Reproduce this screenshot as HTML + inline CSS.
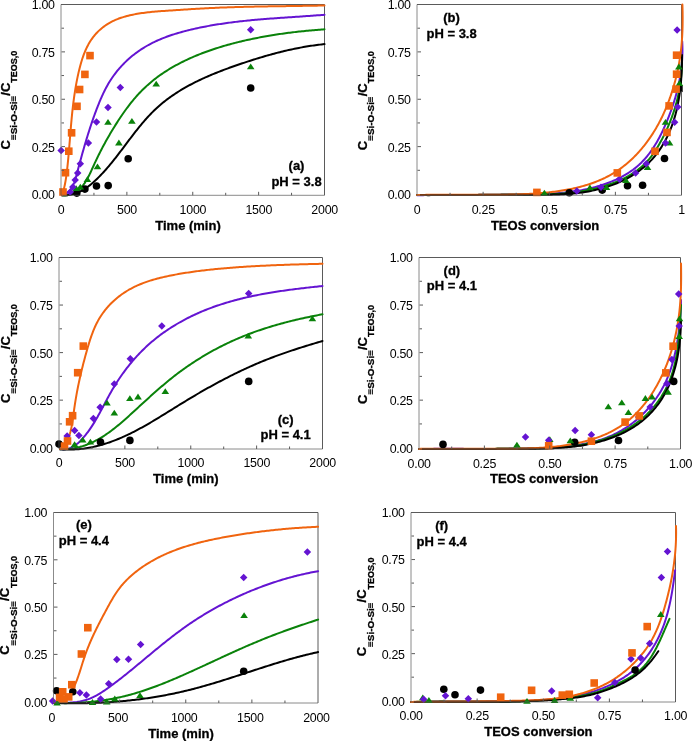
<!DOCTYPE html><html><head><meta charset="utf-8"><style>html,body{margin:0;padding:0;background:#fff;}svg{display:block;}text{font-family:"Liberation Sans",sans-serif;}svg{-webkit-font-smoothing:antialiased;}.b{stroke:#000;stroke-width:0.3px;}.gt{will-change:transform;}</style></head><body>
<svg xmlns="http://www.w3.org/2000/svg" width="692" height="741" viewBox="0 0 692 741">
<rect width="692" height="741" fill="#fff"/>
<defs><clipPath id="cb"><rect x="0" y="0" width="682.7" height="741"/></clipPath></defs>
<path d="M61,4.5H324.5V195.3" fill="none" stroke="#5a5a5a" stroke-width="1"/>
<path d="M62.01,195.21 L63.5,194.78 L64.88,194.23 L66.14,193.57 L67.31,192.82 L68.38,191.96 L69.36,191.02 L70.26,190 L71.08,188.9 L71.83,187.73 L72.51,186.5 L73.14,185.22 L73.72,183.88 L74.25,182.5 L74.74,181.09 L75.21,179.65 L75.64,178.18 L76.06,176.7 L76.47,175.21 L76.86,173.71 L77.26,172.22 L77.66,170.73 L78.05,169.24 L78.45,167.76 L78.85,166.28 L79.25,164.8 L79.65,163.33 L80.05,161.86 L80.45,160.39 L80.85,158.92 L81.25,157.45 L81.66,155.99 L82.06,154.53 L82.47,153.07 L82.88,151.62 L83.29,150.17 L83.71,148.71 L84.12,147.26 L84.54,145.82 L84.97,144.37 L85.39,142.93 L85.82,141.49 L86.25,140.04 L86.68,138.61 L87.12,137.17 L87.56,135.73 L88.01,134.3 L88.46,132.86 L88.91,131.43 L89.37,130 L89.83,128.57 L90.3,127.15 L90.77,125.72 L91.24,124.3 L91.72,122.87 L92.21,121.45 L92.7,120.03 L93.19,118.61 L93.69,117.2 L94.2,115.78 L94.71,114.37 L95.23,112.96 L95.75,111.54 L96.28,110.14 L96.82,108.73 L97.36,107.32 L97.91,105.92 L98.46,104.52 L99.03,103.12 L99.6,101.72 L100.18,100.33 L100.77,98.94 L101.38,97.56 L101.99,96.18 L102.62,94.81 L103.25,93.44 L103.91,92.08 L104.57,90.73 L105.25,89.39 L105.95,88.05 L106.66,86.73 L107.39,85.41 L108.14,84.1 L108.91,82.8 L109.69,81.52 L110.5,80.24 L111.32,78.98 L112.16,77.73 L113.03,76.49 L113.91,75.26 L114.81,74.05 L115.73,72.85 L116.66,71.66 L117.62,70.48 L118.59,69.32 L119.57,68.18 L120.58,67.04 L121.6,65.93 L122.64,64.82 L123.69,63.73 L124.75,62.66 L125.84,61.6 L126.93,60.56 L128.05,59.54 L129.17,58.53 L130.31,57.53 L131.46,56.56 L132.63,55.6 L133.81,54.66 L135,53.73 L136.21,52.83 L137.42,51.94 L138.65,51.07 L139.89,50.22 L141.14,49.39 L142.4,48.57 L143.67,47.78 L144.95,47 L146.24,46.24 L147.54,45.5 L148.85,44.78 L150.17,44.07 L151.5,43.38 L152.84,42.71 L154.18,42.05 L155.54,41.41 L156.9,40.78 L158.27,40.17 L159.64,39.57 L161.03,38.99 L162.42,38.42 L163.81,37.86 L165.22,37.32 L166.63,36.79 L168.04,36.28 L169.46,35.78 L170.89,35.29 L172.32,34.81 L173.75,34.34 L175.2,33.89 L176.64,33.44 L178.09,33.01 L179.54,32.59 L181,32.17 L182.46,31.77 L183.92,31.38 L185.39,30.99 L186.85,30.62 L188.32,30.25 L189.79,29.89 L191.27,29.54 L192.74,29.2 L194.22,28.86 L195.7,28.53 L197.18,28.21 L198.65,27.89 L200.13,27.59 L201.61,27.28 L203.1,26.99 L204.58,26.7 L206.06,26.41 L207.54,26.14 L209.03,25.86 L210.51,25.6 L212,25.34 L213.48,25.08 L214.97,24.84 L216.46,24.59 L217.95,24.35 L219.43,24.12 L220.92,23.89 L222.41,23.67 L223.9,23.45 L225.4,23.24 L226.89,23.03 L228.38,22.83 L229.87,22.63 L231.37,22.44 L232.86,22.25 L234.35,22.06 L235.85,21.88 L237.34,21.7 L238.84,21.53 L240.34,21.36 L241.83,21.19 L243.33,21.03 L244.83,20.87 L246.33,20.71 L247.82,20.56 L249.32,20.41 L250.82,20.27 L252.32,20.12 L253.82,19.98 L255.32,19.85 L256.82,19.71 L258.32,19.58 L259.83,19.45 L261.33,19.32 L262.83,19.2 L264.33,19.07 L265.83,18.95 L267.34,18.84 L268.84,18.72 L270.34,18.6 L271.84,18.49 L273.35,18.38 L274.85,18.27 L276.36,18.16 L277.86,18.05 L279.36,17.95 L280.87,17.84 L282.37,17.74 L283.88,17.63 L285.38,17.53 L286.89,17.43 L288.39,17.33 L289.9,17.23 L291.4,17.13 L292.91,17.03 L294.41,16.93 L295.92,16.83 L297.42,16.73 L298.93,16.63 L300.43,16.52 L301.94,16.42 L303.44,16.32 L304.95,16.22 L306.45,16.12 L307.96,16.01 L309.46,15.91 L310.97,15.81 L312.47,15.7 L313.97,15.59 L315.48,15.48 L316.98,15.37 L318.49,15.26 L319.99,15.15 L321.49,15.03 L323,14.92 L324.5,14.8" fill="none" stroke="#6414d2" stroke-width="2" stroke-linejoin="round" stroke-linecap="round"/>
<path d="M62,195.3 L63.68,195.44 L65.3,195.45 L66.87,195.35 L68.38,195.13 L69.84,194.81 L71.25,194.38 L72.6,193.85 L73.91,193.24 L75.16,192.54 L76.37,191.76 L77.53,190.9 L78.65,189.98 L79.72,188.99 L80.75,187.95 L81.74,186.86 L82.69,185.72 L83.59,184.54 L84.46,183.32 L85.3,182.07 L86.1,180.8 L86.87,179.5 L87.61,178.18 L88.33,176.84 L89.03,175.48 L89.71,174.11 L90.38,172.72 L91.03,171.33 L91.68,169.93 L92.31,168.53 L92.95,167.13 L93.58,165.73 L94.21,164.34 L94.85,162.95 L95.49,161.58 L96.14,160.21 L96.79,158.84 L97.44,157.48 L98.1,156.13 L98.77,154.78 L99.43,153.44 L100.11,152.11 L100.79,150.78 L101.47,149.46 L102.16,148.13 L102.85,146.82 L103.55,145.51 L104.26,144.2 L104.97,142.9 L105.68,141.6 L106.4,140.3 L107.13,139 L107.87,137.71 L108.6,136.42 L109.35,135.14 L110.1,133.85 L110.86,132.57 L111.63,131.29 L112.4,130.01 L113.17,128.73 L113.96,127.45 L114.75,126.17 L115.55,124.89 L116.35,123.61 L117.17,122.34 L117.99,121.06 L118.81,119.79 L119.65,118.52 L120.49,117.26 L121.34,116 L122.2,114.74 L123.07,113.49 L123.95,112.24 L124.83,111 L125.72,109.76 L126.63,108.53 L127.54,107.3 L128.46,106.09 L129.39,104.88 L130.32,103.68 L131.27,102.48 L132.23,101.3 L133.2,100.12 L134.17,98.96 L135.16,97.8 L136.16,96.66 L137.17,95.52 L138.18,94.4 L139.21,93.29 L140.25,92.19 L141.3,91.11 L142.36,90.03 L143.44,88.98 L144.52,87.93 L145.62,86.9 L146.72,85.88 L147.84,84.88 L148.97,83.88 L150.1,82.91 L151.25,81.94 L152.41,80.99 L153.58,80.05 L154.75,79.13 L155.94,78.21 L157.14,77.31 L158.34,76.42 L159.56,75.55 L160.78,74.68 L162.01,73.83 L163.25,72.99 L164.5,72.16 L165.76,71.35 L167.02,70.54 L168.29,69.75 L169.57,68.97 L170.86,68.2 L172.15,67.44 L173.45,66.69 L174.76,65.95 L176.08,65.22 L177.4,64.51 L178.72,63.8 L180.06,63.11 L181.4,62.42 L182.74,61.75 L184.09,61.08 L185.45,60.43 L186.81,59.78 L188.17,59.15 L189.54,58.52 L190.92,57.91 L192.3,57.3 L193.69,56.7 L195.07,56.11 L196.47,55.53 L197.86,54.96 L199.26,54.4 L200.67,53.85 L202.08,53.3 L203.49,52.77 L204.9,52.24 L206.32,51.72 L207.74,51.21 L209.17,50.7 L210.6,50.21 L212.03,49.72 L213.46,49.24 L214.9,48.77 L216.33,48.3 L217.78,47.84 L219.22,47.39 L220.66,46.95 L222.11,46.51 L223.56,46.08 L225.01,45.66 L226.47,45.24 L227.92,44.83 L229.38,44.43 L230.83,44.03 L232.29,43.64 L233.75,43.26 L235.22,42.88 L236.68,42.51 L238.14,42.14 L239.61,41.78 L241.07,41.43 L242.54,41.08 L244.01,40.74 L245.47,40.4 L246.94,40.07 L248.42,39.74 L249.89,39.42 L251.36,39.11 L252.83,38.8 L254.31,38.49 L255.78,38.19 L257.26,37.9 L258.74,37.61 L260.22,37.33 L261.7,37.05 L263.18,36.78 L264.66,36.51 L266.14,36.24 L267.62,35.99 L269.1,35.73 L270.59,35.48 L272.07,35.24 L273.56,35 L275.05,34.77 L276.53,34.54 L278.02,34.31 L279.51,34.09 L281,33.87 L282.49,33.66 L283.98,33.45 L285.48,33.25 L286.97,33.05 L288.46,32.86 L289.96,32.67 L291.45,32.48 L292.95,32.3 L294.45,32.12 L295.94,31.94 L297.44,31.77 L298.94,31.61 L300.44,31.44 L301.94,31.28 L303.44,31.13 L304.94,30.97 L306.44,30.83 L307.94,30.68 L309.44,30.54 L310.95,30.4 L312.45,30.27 L313.96,30.13 L315.46,30.01 L316.97,29.88 L318.47,29.76 L319.98,29.64 L321.49,29.52 L322.99,29.41 L324.5,29.3" fill="none" stroke="#0a820a" stroke-width="2" stroke-linejoin="round" stroke-linecap="round"/>
<path d="M62,195.31 L63.64,195.35 L65.26,195.32 L66.84,195.22 L68.39,195.06 L69.91,194.83 L71.4,194.55 L72.86,194.2 L74.29,193.8 L75.7,193.34 L77.08,192.83 L78.43,192.27 L79.76,191.67 L81.07,191.02 L82.36,190.32 L83.62,189.59 L84.86,188.82 L86.09,188.01 L87.29,187.17 L88.48,186.29 L89.65,185.39 L90.8,184.46 L91.94,183.51 L93.07,182.54 L94.18,181.54 L95.28,180.53 L96.36,179.5 L97.44,178.46 L98.51,177.41 L99.56,176.34 L100.61,175.26 L101.65,174.18 L102.68,173.08 L103.7,171.97 L104.71,170.85 L105.71,169.72 L106.71,168.59 L107.7,167.44 L108.68,166.29 L109.66,165.13 L110.63,163.96 L111.59,162.78 L112.55,161.6 L113.51,160.41 L114.46,159.22 L115.4,158.02 L116.35,156.82 L117.28,155.61 L118.22,154.4 L119.15,153.19 L120.08,151.97 L121.01,150.75 L121.94,149.53 L122.86,148.3 L123.78,147.08 L124.71,145.85 L125.63,144.62 L126.55,143.4 L127.48,142.17 L128.4,140.95 L129.32,139.72 L130.25,138.5 L131.18,137.28 L132.11,136.06 L133.04,134.85 L133.98,133.64 L134.92,132.43 L135.86,131.23 L136.81,130.03 L137.76,128.83 L138.71,127.65 L139.67,126.46 L140.64,125.29 L141.61,124.12 L142.59,122.96 L143.57,121.8 L144.56,120.66 L145.56,119.52 L146.56,118.39 L147.58,117.28 L148.6,116.17 L149.63,115.07 L150.67,113.98 L151.72,112.9 L152.77,111.84 L153.84,110.78 L154.92,109.74 L156.01,108.71 L157.11,107.7 L158.22,106.7 L159.34,105.71 L160.47,104.73 L161.61,103.77 L162.77,102.82 L163.93,101.88 L165.1,100.95 L166.28,100.04 L167.47,99.14 L168.68,98.25 L169.88,97.37 L171.1,96.5 L172.33,95.64 L173.57,94.8 L174.81,93.96 L176.06,93.14 L177.33,92.33 L178.59,91.52 L179.87,90.73 L181.15,89.95 L182.45,89.18 L183.74,88.42 L185.05,87.66 L186.36,86.92 L187.68,86.19 L189.01,85.46 L190.34,84.75 L191.67,84.04 L193.02,83.35 L194.37,82.66 L195.72,81.98 L197.08,81.31 L198.45,80.64 L199.82,79.99 L201.19,79.34 L202.57,78.7 L203.96,78.07 L205.35,77.45 L206.74,76.83 L208.13,76.22 L209.53,75.61 L210.94,75.02 L212.35,74.43 L213.76,73.85 L215.17,73.27 L216.59,72.7 L218,72.13 L219.43,71.57 L220.85,71.02 L222.28,70.47 L223.7,69.93 L225.13,69.39 L226.57,68.86 L228,68.34 L229.43,67.81 L230.87,67.3 L232.3,66.78 L233.74,66.28 L235.18,65.77 L236.61,65.27 L238.05,64.78 L239.49,64.28 L240.93,63.79 L242.36,63.31 L243.8,62.83 L245.24,62.35 L246.67,61.87 L248.11,61.4 L249.55,60.94 L250.98,60.47 L252.42,60.01 L253.86,59.56 L255.3,59.11 L256.73,58.66 L258.17,58.22 L259.61,57.78 L261.05,57.35 L262.49,56.92 L263.93,56.49 L265.37,56.07 L266.81,55.66 L268.26,55.25 L269.7,54.84 L271.15,54.44 L272.59,54.05 L274.04,53.66 L275.49,53.28 L276.94,52.9 L278.39,52.52 L279.84,52.16 L281.3,51.79 L282.76,51.44 L284.21,51.09 L285.67,50.74 L287.14,50.4 L288.6,50.07 L290.07,49.74 L291.53,49.42 L293,49.11 L294.48,48.8 L295.95,48.5 L297.43,48.21 L298.91,47.92 L300.39,47.64 L301.87,47.36 L303.36,47.09 L304.85,46.83 L306.34,46.58 L307.84,46.33 L309.34,46.09 L310.84,45.86 L312.34,45.63 L313.85,45.41 L315.36,45.2 L316.88,45 L318.39,44.8 L319.92,44.62 L321.44,44.44 L322.97,44.26 L324.5,44.1" fill="none" stroke="#000000" stroke-width="2" stroke-linejoin="round" stroke-linecap="round"/>
<path d="M62.01,195.31 L62.47,193.93 L62.89,192.53 L63.3,191.13 L63.68,189.72 L64.03,188.3 L64.37,186.87 L64.68,185.43 L64.98,183.98 L65.26,182.52 L65.52,181.06 L65.77,179.59 L66,178.12 L66.22,176.64 L66.42,175.15 L66.62,173.66 L66.81,172.17 L66.99,170.67 L67.16,169.18 L67.33,167.67 L67.49,166.17 L67.65,164.66 L67.8,163.16 L67.95,161.65 L68.1,160.14 L68.24,158.63 L68.38,157.12 L68.52,155.61 L68.65,154.09 L68.78,152.58 L68.91,151.07 L69.04,149.55 L69.17,148.04 L69.3,146.52 L69.42,145.01 L69.54,143.49 L69.67,141.98 L69.79,140.47 L69.91,138.95 L70.03,137.44 L70.15,135.93 L70.28,134.42 L70.4,132.91 L70.52,131.4 L70.65,129.9 L70.77,128.39 L70.9,126.89 L71.03,125.39 L71.16,123.89 L71.29,122.39 L71.43,120.89 L71.57,119.39 L71.71,117.9 L71.86,116.4 L72,114.91 L72.15,113.42 L72.31,111.93 L72.47,110.44 L72.63,108.95 L72.8,107.46 L72.97,105.97 L73.15,104.48 L73.33,102.99 L73.52,101.5 L73.72,100.01 L73.91,98.53 L74.12,97.04 L74.33,95.55 L74.55,94.06 L74.78,92.57 L75.01,91.08 L75.25,89.59 L75.49,88.1 L75.75,86.61 L76.01,85.12 L76.28,83.63 L76.56,82.14 L76.85,80.64 L77.14,79.15 L77.45,77.65 L77.76,76.15 L78.09,74.65 L78.42,73.15 L78.76,71.65 L79.12,70.15 L79.49,68.65 L79.87,67.15 L80.26,65.66 L80.67,64.17 L81.09,62.68 L81.54,61.2 L81.99,59.73 L82.47,58.27 L82.97,56.82 L83.48,55.38 L84.02,53.95 L84.58,52.53 L85.16,51.13 L85.77,49.74 L86.4,48.37 L87.05,47.02 L87.73,45.68 L88.44,44.36 L89.18,43.06 L89.94,41.79 L90.73,40.53 L91.56,39.3 L92.42,38.09 L93.31,36.91 L94.23,35.76 L95.18,34.63 L96.16,33.52 L97.17,32.45 L98.21,31.4 L99.28,30.38 L100.38,29.39 L101.5,28.43 L102.65,27.5 L103.82,26.6 L105.02,25.73 L106.25,24.89 L107.49,24.09 L108.76,23.31 L110.05,22.57 L111.36,21.86 L112.7,21.19 L114.05,20.55 L115.42,19.94 L116.8,19.36 L118.2,18.81 L119.62,18.29 L121.05,17.79 L122.49,17.33 L123.94,16.88 L125.41,16.46 L126.88,16.07 L128.36,15.69 L129.85,15.34 L131.34,15 L132.84,14.68 L134.34,14.38 L135.84,14.1 L137.34,13.83 L138.85,13.58 L140.35,13.34 L141.86,13.11 L143.37,12.9 L144.88,12.7 L146.39,12.51 L147.91,12.33 L149.42,12.16 L150.93,12 L152.45,11.85 L153.96,11.7 L155.48,11.57 L156.99,11.44 L158.51,11.32 L160.02,11.2 L161.54,11.09 L163.06,10.98 L164.57,10.88 L166.08,10.78 L167.6,10.68 L169.11,10.59 L170.62,10.49 L172.13,10.4 L173.64,10.31 L175.15,10.21 L176.66,10.12 L178.17,10.02 L179.67,9.92 L181.18,9.82 L182.68,9.72 L184.18,9.62 L185.69,9.52 L187.19,9.41 L188.69,9.31 L190.19,9.21 L191.69,9.11 L193.19,9.02 L194.69,8.92 L196.19,8.83 L197.7,8.74 L199.2,8.65 L200.7,8.56 L202.2,8.48 L203.71,8.39 L205.21,8.31 L206.72,8.24 L208.22,8.16 L209.73,8.09 L211.23,8.01 L212.74,7.94 L214.24,7.88 L215.75,7.81 L217.26,7.75 L218.76,7.68 L220.27,7.62 L221.78,7.56 L223.29,7.51 L224.79,7.45 L226.3,7.4 L227.81,7.34 L229.32,7.29 L230.83,7.24 L232.34,7.19 L233.85,7.15 L235.36,7.1 L236.87,7.06 L238.38,7.01 L239.89,6.97 L241.4,6.93 L242.91,6.89 L244.42,6.86 L245.93,6.82 L247.44,6.78 L248.95,6.75 L250.46,6.71 L251.97,6.68 L253.48,6.65 L255,6.62 L256.51,6.59 L258.02,6.56 L259.53,6.53 L261.04,6.5 L262.56,6.47 L264.07,6.45 L265.58,6.42 L267.09,6.4 L268.6,6.37 L270.12,6.35 L271.63,6.32 L273.14,6.3 L274.65,6.28 L276.16,6.26 L277.68,6.23 L279.19,6.21 L280.7,6.19 L282.21,6.17 L283.72,6.15 L285.24,6.13 L286.75,6.1 L288.26,6.08 L289.77,6.06 L291.28,6.04 L292.79,6.02 L294.31,6 L295.82,5.98 L297.33,5.96 L298.84,5.93 L300.35,5.91 L301.86,5.89 L303.37,5.87 L304.88,5.85 L306.39,5.82 L307.9,5.8 L309.41,5.77 L310.92,5.75 L312.43,5.72 L313.94,5.7 L315.45,5.67 L316.96,5.65 L318.47,5.62 L319.98,5.59 L321.48,5.56 L322.99,5.53 L324.5,5.5" fill="none" stroke="#f0640f" stroke-width="2" stroke-linejoin="round" stroke-linecap="round"/>
<circle cx="250.7" cy="88" r="3.8" fill="#000"/>
<circle cx="128.2" cy="158.7" r="3.8" fill="#000"/>
<circle cx="108.2" cy="185.6" r="3.8" fill="#000"/>
<circle cx="96.5" cy="186" r="3.8" fill="#000"/>
<circle cx="84.9" cy="189.1" r="3.8" fill="#000"/>
<circle cx="76.8" cy="193.1" r="3.8" fill="#000"/>
<path d="M156.2,80.7l3.8,5.8h-7.6z" fill="#0a820a"/>
<path d="M131.9,118l3.8,5.8h-7.6z" fill="#0a820a"/>
<path d="M108,119l3.8,5.8h-7.6z" fill="#0a820a"/>
<path d="M118.9,139.6l3.8,5.8h-7.6z" fill="#0a820a"/>
<path d="M97.5,163.5l3.8,5.8h-7.6z" fill="#0a820a"/>
<path d="M87.4,176.3l3.8,5.8h-7.6z" fill="#0a820a"/>
<path d="M80.3,183.7l3.8,5.8h-7.6z" fill="#0a820a"/>
<path d="M76.2,185.2l3.8,5.8h-7.6z" fill="#0a820a"/>
<path d="M250.7,63.5l3.8,5.8h-7.6z" fill="#0a820a"/>
<path d="M120.3,83.65l3.75,3.75l-3.75,3.75l-3.75,-3.75z" fill="#6414d2"/>
<path d="M108,103.75l3.75,3.75l-3.75,3.75l-3.75,-3.75z" fill="#6414d2"/>
<path d="M96.5,118.15l3.75,3.75l-3.75,3.75l-3.75,-3.75z" fill="#6414d2"/>
<path d="M88.4,139.15l3.75,3.75l-3.75,3.75l-3.75,-3.75z" fill="#6414d2"/>
<path d="M80.3,160.05l3.75,3.75l-3.75,3.75l-3.75,-3.75z" fill="#6414d2"/>
<path d="M77.7,169.15l3.75,3.75l-3.75,3.75l-3.75,-3.75z" fill="#6414d2"/>
<path d="M75.2,176.25l3.75,3.75l-3.75,3.75l-3.75,-3.75z" fill="#6414d2"/>
<path d="M72.8,183.25l3.75,3.75l-3.75,3.75l-3.75,-3.75z" fill="#6414d2"/>
<path d="M70.2,188.35l3.75,3.75l-3.75,3.75l-3.75,-3.75z" fill="#6414d2"/>
<path d="M61.1,146.85l3.75,3.75l-3.75,3.75l-3.75,-3.75z" fill="#6414d2"/>
<path d="M250.7,25.95l3.75,3.75l-3.75,3.75l-3.75,-3.75z" fill="#6414d2"/>
<rect x="86.2" y="51.8" width="7.6" height="7.6" fill="#f0640f"/>
<rect x="81.1" y="70.6" width="7.6" height="7.6" fill="#f0640f"/>
<rect x="75.8" y="85.7" width="7.6" height="7.6" fill="#f0640f"/>
<rect x="73.2" y="102.5" width="7.6" height="7.6" fill="#f0640f"/>
<rect x="67.8" y="129" width="7.6" height="7.6" fill="#f0640f"/>
<rect x="65" y="147.4" width="7.6" height="7.6" fill="#f0640f"/>
<rect x="61.7" y="168.9" width="7.6" height="7.6" fill="#f0640f"/>
<rect x="59.2" y="188.2" width="7.6" height="7.6" fill="#f0640f"/>
<path d="M61,4.5V195.3H324.5" fill="none" stroke="#5a5a5a" stroke-opacity="0.7" stroke-width="1"/>
<path d="M61.5,170.31h2.5" stroke="#5a5a5a" stroke-width="1"/>
<path d="M61.5,146.62h3.5" stroke="#5a5a5a" stroke-width="1"/>
<path d="M61.5,122.94h2.5" stroke="#5a5a5a" stroke-width="1"/>
<path d="M61.5,99.25h3.5" stroke="#5a5a5a" stroke-width="1"/>
<path d="M61.5,75.56h2.5" stroke="#5a5a5a" stroke-width="1"/>
<path d="M61.5,51.88h3.5" stroke="#5a5a5a" stroke-width="1"/>
<path d="M61.5,28.19h2.5" stroke="#5a5a5a" stroke-width="1"/>
<path d="M93.94,195.3v-2.5" stroke="#5a5a5a" stroke-width="1"/>
<path d="M126.88,195.3v-3.5" stroke="#5a5a5a" stroke-width="1"/>
<path d="M159.81,195.3v-2.5" stroke="#5a5a5a" stroke-width="1"/>
<path d="M192.75,195.3v-3.5" stroke="#5a5a5a" stroke-width="1"/>
<path d="M225.69,195.3v-2.5" stroke="#5a5a5a" stroke-width="1"/>
<path d="M258.62,195.3v-3.5" stroke="#5a5a5a" stroke-width="1"/>
<path d="M291.56,195.3v-2.5" stroke="#5a5a5a" stroke-width="1"/>
<path d="M417,4.5H681.5V195.3" fill="none" stroke="#5a5a5a" stroke-width="1"/>
<path d="M417.1,195.2 L418.63,195.18 L420.15,195.17 L421.68,195.15 L423.2,195.13 L424.73,195.12 L426.25,195.11 L427.77,195.09 L429.29,195.08 L430.81,195.07 L432.32,195.06 L433.84,195.05 L435.35,195.04 L436.87,195.04 L438.38,195.03 L439.89,195.02 L441.4,195.02 L442.91,195.01 L444.42,195 L445.93,195 L447.44,195 L448.95,194.99 L450.46,194.99 L451.96,194.99 L453.47,194.98 L454.97,194.98 L456.48,194.98 L457.98,194.98 L459.48,194.98 L460.99,194.97 L462.49,194.97 L463.99,194.97 L465.5,194.97 L467,194.97 L468.5,194.97 L470,194.97 L471.5,194.97 L473,194.96 L474.51,194.96 L476.01,194.96 L477.51,194.96 L479.01,194.96 L480.51,194.95 L482.01,194.95 L483.51,194.95 L485.02,194.95 L486.52,194.94 L488.02,194.94 L489.52,194.93 L491.03,194.93 L492.53,194.92 L494.03,194.91 L495.54,194.91 L497.04,194.9 L498.55,194.89 L500.05,194.88 L501.56,194.87 L503.06,194.86 L504.57,194.85 L506.08,194.84 L507.59,194.83 L509.1,194.81 L510.61,194.8 L512.12,194.78 L513.63,194.77 L515.15,194.75 L516.66,194.73 L518.18,194.71 L519.69,194.69 L521.21,194.67 L522.73,194.64 L524.25,194.62 L525.77,194.59 L527.29,194.57 L528.81,194.54 L530.33,194.5 L531.85,194.47 L533.38,194.43 L534.9,194.39 L536.43,194.35 L537.95,194.3 L539.47,194.25 L541,194.19 L542.52,194.13 L544.05,194.06 L545.57,193.99 L547.09,193.92 L548.61,193.84 L550.14,193.75 L551.66,193.66 L553.18,193.56 L554.7,193.45 L556.21,193.34 L557.73,193.22 L559.25,193.09 L560.76,192.96 L562.27,192.81 L563.78,192.66 L565.29,192.5 L566.8,192.34 L568.3,192.16 L569.81,191.97 L571.31,191.78 L572.8,191.57 L574.3,191.36 L575.79,191.13 L577.29,190.89 L578.77,190.65 L580.26,190.39 L581.74,190.12 L583.22,189.84 L584.7,189.54 L586.17,189.24 L587.64,188.92 L589.11,188.59 L590.57,188.25 L592.03,187.89 L593.49,187.52 L594.94,187.14 L596.39,186.74 L597.83,186.33 L599.27,185.9 L600.7,185.46 L602.14,185 L603.56,184.53 L604.98,184.04 L606.4,183.54 L607.81,183.02 L609.22,182.48 L610.62,181.93 L612.02,181.36 L613.41,180.78 L614.8,180.17 L616.17,179.55 L617.54,178.91 L618.9,178.25 L620.25,177.57 L621.59,176.88 L622.91,176.16 L624.23,175.42 L625.53,174.67 L626.82,173.89 L628.09,173.1 L629.35,172.28 L630.59,171.44 L631.82,170.58 L633.03,169.7 L634.22,168.79 L635.39,167.87 L636.54,166.92 L637.68,165.95 L638.8,164.96 L639.89,163.95 L640.97,162.93 L642.03,161.88 L643.07,160.81 L644.09,159.72 L645.09,158.61 L646.07,157.49 L647.03,156.34 L647.97,155.18 L648.9,154 L649.8,152.81 L650.69,151.59 L651.56,150.37 L652.42,149.13 L653.25,147.87 L654.07,146.61 L654.88,145.33 L655.67,144.03 L656.44,142.73 L657.2,141.41 L657.95,140.09 L658.68,138.75 L659.4,137.41 L660.1,136.05 L660.79,134.69 L661.47,133.32 L662.14,131.95 L662.8,130.56 L663.44,129.18 L664.08,127.78 L664.7,126.38 L665.32,124.98 L665.92,123.58 L666.52,122.17 L667.1,120.76 L667.68,119.35 L668.25,117.94 L668.81,116.52 L669.36,115.1 L669.9,113.68 L670.43,112.26 L670.96,110.83 L671.47,109.41 L671.97,107.98 L672.46,106.55 L672.95,105.11 L673.42,103.68 L673.88,102.24 L674.33,100.8 L674.77,99.36 L675.2,97.91 L675.62,96.47 L676.03,95.02 L676.42,93.57 L676.81,92.11 L677.18,90.66 L677.54,89.2 L677.89,87.74 L678.23,86.28 L678.56,84.81 L678.87,83.35 L679.17,81.88 L679.46,80.41 L679.74,78.93 L680,77.46 L680.25,75.98 L680.49,74.5 L680.72,73.01 L680.93,71.53 L681.13,70.04 L681.31,68.55 L681.49,67.06 L681.64,65.56 L681.79,64.06 L681.92,62.56 L682.03,61.06 L682.14,59.55 L682.22,58.05 L682.3,56.54 L682.35,55.02 L682.4,53.51 L682.43,51.99 L682.44,50.47 L682.44,48.95 L682.42,47.42 L682.39,45.9 L682.34,44.37 L682.28,42.84 L682.2,41.3" fill="none" stroke="#6414d2" stroke-width="2" stroke-linejoin="round" stroke-linecap="round"/>
<path d="M417.1,195.1 L418.61,195.09 L420.13,195.08 L421.64,195.07 L423.15,195.06 L424.67,195.05 L426.18,195.05 L427.69,195.04 L429.2,195.03 L430.71,195.02 L432.22,195.02 L433.73,195.01 L435.24,195.01 L436.75,195 L438.26,195 L439.77,194.99 L441.28,194.99 L442.79,194.98 L444.29,194.98 L445.8,194.97 L447.31,194.97 L448.82,194.97 L450.32,194.96 L451.83,194.96 L453.34,194.96 L454.84,194.95 L456.35,194.95 L457.86,194.95 L459.36,194.95 L460.87,194.94 L462.37,194.94 L463.88,194.94 L465.38,194.94 L466.89,194.94 L468.39,194.93 L469.9,194.93 L471.41,194.93 L472.91,194.93 L474.42,194.93 L475.92,194.92 L477.43,194.92 L478.93,194.92 L480.44,194.92 L481.94,194.92 L483.45,194.91 L484.95,194.91 L486.46,194.91 L487.96,194.9 L489.47,194.9 L490.97,194.9 L492.48,194.9 L493.99,194.89 L495.49,194.89 L497,194.88 L498.5,194.88 L500.01,194.88 L501.52,194.87 L503.02,194.87 L504.53,194.86 L506.04,194.86 L507.55,194.85 L509.06,194.84 L510.56,194.84 L512.07,194.83 L513.58,194.82 L515.09,194.82 L516.6,194.81 L518.11,194.8 L519.62,194.79 L521.13,194.78 L522.64,194.77 L524.15,194.76 L525.66,194.75 L527.17,194.74 L528.69,194.73 L530.2,194.71 L531.71,194.7 L533.22,194.68 L534.73,194.66 L536.25,194.63 L537.76,194.6 L539.27,194.57 L540.78,194.54 L542.29,194.5 L543.81,194.46 L545.32,194.42 L546.83,194.37 L548.34,194.31 L549.85,194.25 L551.36,194.19 L552.87,194.11 L554.37,194.04 L555.88,193.95 L557.39,193.86 L558.89,193.77 L560.4,193.66 L561.9,193.55 L563.41,193.44 L564.91,193.31 L566.41,193.17 L567.91,193.03 L569.41,192.88 L570.91,192.72 L572.4,192.55 L573.9,192.37 L575.39,192.18 L576.89,191.98 L578.38,191.78 L579.87,191.56 L581.36,191.33 L582.84,191.08 L584.33,190.83 L585.81,190.57 L587.29,190.29 L588.77,190 L590.25,189.7 L591.73,189.39 L593.2,189.06 L594.67,188.72 L596.14,188.37 L597.61,188 L599.08,187.62 L600.54,187.22 L602,186.81 L603.46,186.39 L604.92,185.95 L606.37,185.49 L607.82,185.02 L609.26,184.53 L610.69,184.03 L612.12,183.51 L613.54,182.97 L614.96,182.42 L616.36,181.85 L617.76,181.26 L619.15,180.66 L620.53,180.03 L621.9,179.39 L623.25,178.73 L624.6,178.05 L625.93,177.36 L627.25,176.64 L628.56,175.91 L629.85,175.15 L631.13,174.38 L632.39,173.58 L633.64,172.77 L634.87,171.93 L636.09,171.07 L637.29,170.2 L638.46,169.3 L639.63,168.38 L640.77,167.43 L641.89,166.47 L642.99,165.48 L644.07,164.47 L645.13,163.44 L646.17,162.39 L647.18,161.31 L648.17,160.2 L649.14,159.08 L650.09,157.93 L651.01,156.76 L651.91,155.58 L652.8,154.37 L653.66,153.14 L654.51,151.9 L655.34,150.65 L656.16,149.38 L656.95,148.1 L657.74,146.8 L658.51,145.5 L659.27,144.19 L660.01,142.86 L660.75,141.54 L661.47,140.2 L662.19,138.86 L662.89,137.51 L663.58,136.16 L664.26,134.8 L664.93,133.43 L665.59,132.06 L666.23,130.68 L666.87,129.3 L667.49,127.91 L668.1,126.52 L668.7,125.12 L669.29,123.71 L669.86,122.3 L670.42,120.89 L670.97,119.47 L671.51,118.05 L672.04,116.62 L672.55,115.19 L673.05,113.75 L673.53,112.31 L674.01,110.87 L674.47,109.42 L674.92,107.97 L675.35,106.52 L675.77,105.06 L676.18,103.6 L676.58,102.14 L676.96,100.67 L677.32,99.2 L677.68,97.73 L678.02,96.26 L678.34,94.78 L678.66,93.3 L678.95,91.82 L679.24,90.34 L679.51,88.86 L679.76,87.37 L680,85.88 L680.23,84.4 L680.44,82.91 L680.64,81.42 L680.82,79.92 L680.98,78.43 L681.14,76.94 L681.27,75.45 L681.39,73.95 L681.5,72.46 L681.59,70.96 L681.66,69.47 L681.72,67.97 L681.77,66.48 L681.79,64.99 L681.81,63.49 L681.8,62" fill="none" stroke="#0a820a" stroke-width="2" stroke-linejoin="round" stroke-linecap="round"/>
<path d="M417.1,195.1 L418.63,195.11 L420.16,195.11 L421.68,195.12 L423.21,195.12 L424.73,195.12 L426.25,195.12 L427.77,195.13 L429.29,195.13 L430.81,195.12 L432.33,195.12 L433.84,195.12 L435.36,195.12 L436.87,195.12 L438.39,195.11 L439.9,195.11 L441.41,195.1 L442.92,195.1 L444.43,195.09 L445.94,195.08 L447.45,195.08 L448.95,195.07 L450.46,195.06 L451.97,195.05 L453.47,195.04 L454.98,195.03 L456.48,195.02 L457.99,195.01 L459.49,195 L460.99,194.99 L462.5,194.98 L464,194.97 L465.5,194.96 L467,194.95 L468.5,194.94 L470,194.93 L471.51,194.92 L473.01,194.91 L474.51,194.9 L476.01,194.89 L477.51,194.88 L479.01,194.87 L480.51,194.86 L482.01,194.85 L483.51,194.84 L485.01,194.83 L486.52,194.82 L488.02,194.81 L489.52,194.8 L491.02,194.79 L492.52,194.78 L494.03,194.78 L495.53,194.77 L497.04,194.76 L498.54,194.76 L500.05,194.75 L501.55,194.75 L503.06,194.74 L504.56,194.74 L506.07,194.73 L507.58,194.73 L509.09,194.73 L510.6,194.73 L512.11,194.73 L513.62,194.73 L515.14,194.73 L516.65,194.73 L518.16,194.74 L519.68,194.74 L521.2,194.75 L522.71,194.75 L524.23,194.76 L525.75,194.77 L527.27,194.77 L528.8,194.78 L530.32,194.79 L531.84,194.8 L533.37,194.8 L534.89,194.8 L536.41,194.81 L537.94,194.81 L539.46,194.8 L540.99,194.8 L542.52,194.79 L544.04,194.78 L545.57,194.76 L547.09,194.74 L548.62,194.72 L550.14,194.69 L551.67,194.66 L553.19,194.62 L554.71,194.57 L556.23,194.52 L557.76,194.47 L559.28,194.4 L560.8,194.33 L562.31,194.25 L563.83,194.17 L565.35,194.07 L566.86,193.97 L568.38,193.86 L569.89,193.74 L571.4,193.61 L572.91,193.47 L574.42,193.32 L575.92,193.16 L577.42,192.99 L578.93,192.81 L580.42,192.62 L581.92,192.41 L583.42,192.19 L584.91,191.97 L586.4,191.72 L587.89,191.47 L589.37,191.2 L590.85,190.92 L592.33,190.62 L593.81,190.31 L595.28,189.99 L596.75,189.65 L598.22,189.29 L599.68,188.92 L601.14,188.54 L602.6,188.13 L604.05,187.71 L605.5,187.28 L606.95,186.83 L608.39,186.36 L609.82,185.87 L611.25,185.37 L612.67,184.85 L614.08,184.32 L615.49,183.77 L616.89,183.2 L618.28,182.61 L619.66,182.01 L621.03,181.39 L622.4,180.75 L623.75,180.1 L625.1,179.43 L626.43,178.74 L627.76,178.03 L629.07,177.31 L630.37,176.56 L631.66,175.8 L632.94,175.02 L634.2,174.23 L635.45,173.41 L636.69,172.58 L637.91,171.73 L639.12,170.86 L640.32,169.98 L641.5,169.07 L642.66,168.15 L643.81,167.2 L644.94,166.24 L646.05,165.26 L647.15,164.26 L648.23,163.25 L649.29,162.21 L650.33,161.15 L651.36,160.08 L652.37,158.99 L653.35,157.87 L654.32,156.74 L655.27,155.6 L656.2,154.43 L657.11,153.25 L658.01,152.05 L658.88,150.84 L659.74,149.61 L660.58,148.37 L661.4,147.11 L662.2,145.84 L662.98,144.55 L663.75,143.25 L664.49,141.94 L665.22,140.62 L665.93,139.28 L666.62,137.94 L667.29,136.58 L667.95,135.21 L668.58,133.83 L669.2,132.44 L669.8,131.04 L670.38,129.64 L670.95,128.22 L671.5,126.8 L672.03,125.36 L672.54,123.92 L673.03,122.48 L673.51,121.02 L673.98,119.56 L674.42,118.1 L674.85,116.62 L675.27,115.15 L675.67,113.66 L676.05,112.17 L676.42,110.68 L676.78,109.18 L677.12,107.68 L677.45,106.17 L677.76,104.67 L678.06,103.15 L678.35,101.64 L678.62,100.12 L678.88,98.6 L679.13,97.08 L679.37,95.55 L679.59,94.03 L679.8,92.5 L680,90.98 L680.19,89.45 L680.37,87.93 L680.54,86.4 L680.69,84.87 L680.84,83.35 L680.98,81.83 L681.1,80.31 L681.22,78.79 L681.33,77.27 L681.43,75.75 L681.52,74.24 L681.6,72.73 L681.67,71.23 L681.74,69.73 L681.79,68.23 L681.84,66.74 L681.89,65.25 L681.92,63.77 L681.95,62.29 L681.97,60.82 L681.99,59.36 L682,57.9 L682,56.45 L682,55" fill="none" stroke="#000000" stroke-width="2" stroke-linejoin="round" stroke-linecap="round"/>
<path d="M417.1,195.1 L418.63,195.05 L420.16,195.01 L421.69,194.96 L423.21,194.92 L424.74,194.89 L426.26,194.85 L427.78,194.82 L429.3,194.8 L430.82,194.77 L432.34,194.75 L433.85,194.73 L435.36,194.71 L436.88,194.7 L438.39,194.68 L439.9,194.67 L441.41,194.67 L442.92,194.66 L444.42,194.65 L445.93,194.65 L447.43,194.65 L448.94,194.65 L450.44,194.65 L451.94,194.65 L453.44,194.66 L454.95,194.66 L456.45,194.67 L457.95,194.68 L459.44,194.68 L460.94,194.69 L462.44,194.7 L463.94,194.71 L465.43,194.72 L466.93,194.73 L468.43,194.74 L469.92,194.75 L471.42,194.75 L472.92,194.76 L474.41,194.77 L475.91,194.78 L477.4,194.79 L478.9,194.79 L480.39,194.8 L481.89,194.8 L483.38,194.81 L484.88,194.81 L486.38,194.81 L487.87,194.81 L489.37,194.81 L490.87,194.81 L492.36,194.8 L493.86,194.8 L495.36,194.79 L496.86,194.78 L498.36,194.77 L499.86,194.75 L501.36,194.73 L502.86,194.71 L504.37,194.69 L505.87,194.67 L507.38,194.64 L508.88,194.61 L510.39,194.58 L511.89,194.54 L513.4,194.5 L514.91,194.46 L516.42,194.41 L517.94,194.36 L519.45,194.31 L520.96,194.25 L522.48,194.19 L524,194.12 L525.52,194.05 L527.04,193.98 L528.56,193.9 L530.08,193.82 L531.61,193.73 L533.13,193.64 L534.66,193.54 L536.19,193.44 L537.71,193.33 L539.24,193.21 L540.77,193.09 L542.29,192.96 L543.82,192.83 L545.35,192.69 L546.87,192.54 L548.39,192.38 L549.92,192.22 L551.44,192.04 L552.96,191.86 L554.47,191.67 L555.99,191.48 L557.5,191.27 L559.01,191.05 L560.52,190.83 L562.03,190.59 L563.53,190.35 L565.03,190.09 L566.53,189.83 L568.02,189.55 L569.51,189.26 L570.99,188.97 L572.47,188.66 L573.95,188.33 L575.42,188 L576.89,187.66 L578.35,187.3 L579.81,186.93 L581.26,186.55 L582.71,186.15 L584.15,185.74 L585.59,185.32 L587.01,184.88 L588.44,184.43 L589.85,183.96 L591.26,183.48 L592.67,182.99 L594.06,182.48 L595.45,181.96 L596.83,181.42 L598.21,180.86 L599.57,180.29 L600.93,179.7 L602.28,179.09 L603.62,178.47 L604.96,177.84 L606.28,177.18 L607.59,176.51 L608.9,175.82 L610.2,175.11 L611.48,174.38 L612.76,173.64 L614.03,172.87 L615.29,172.09 L616.53,171.29 L617.77,170.47 L619,169.63 L620.21,168.77 L621.42,167.89 L622.61,166.99 L623.79,166.08 L624.97,165.15 L626.13,164.2 L627.28,163.23 L628.41,162.25 L629.54,161.25 L630.66,160.24 L631.76,159.21 L632.85,158.17 L633.93,157.11 L635,156.03 L636.06,154.95 L637.1,153.85 L638.13,152.73 L639.15,151.6 L640.16,150.46 L641.15,149.31 L642.14,148.15 L643.11,146.97 L644.06,145.78 L645.01,144.59 L645.94,143.38 L646.86,142.16 L647.76,140.93 L648.66,139.69 L649.53,138.44 L650.4,137.18 L651.25,135.92 L652.09,134.64 L652.92,133.36 L653.73,132.07 L654.53,130.78 L655.31,129.47 L656.08,128.16 L656.84,126.85 L657.58,125.52 L658.32,124.19 L659.03,122.86 L659.74,121.51 L660.43,120.17 L661.11,118.81 L661.78,117.45 L662.44,116.09 L663.08,114.72 L663.72,113.34 L664.34,111.96 L664.95,110.58 L665.54,109.19 L666.13,107.79 L666.7,106.39 L667.27,104.99 L667.82,103.58 L668.36,102.17 L668.89,100.76 L669.41,99.34 L669.92,97.92 L670.42,96.5 L670.91,95.08 L671.39,93.65 L671.86,92.22 L672.31,90.78 L672.76,89.35 L673.2,87.91 L673.63,86.47 L674.05,85.02 L674.45,83.58 L674.85,82.13 L675.24,80.68 L675.62,79.22 L675.98,77.77 L676.34,76.31 L676.69,74.85 L677.02,73.39 L677.35,71.92 L677.67,70.46 L677.97,68.99 L678.27,67.52 L678.56,66.05 L678.83,64.57 L679.1,63.1 L679.35,61.62 L679.6,60.14 L679.83,58.66 L680.06,57.17 L680.28,55.69 L680.48,54.2 L680.68,52.71 L680.86,51.22 L681.03,49.73 L681.2,48.24 L681.35,46.74 L681.5,45.24 L681.63,43.75 L681.76,42.25 L681.87,40.75 L681.98,39.24 L682.08,37.74 L682.17,36.24 L682.25,34.73 L682.32,33.23 L682.39,31.72 L682.45,30.21 L682.49,28.7 L682.54,27.19 L682.57,25.68 L682.6,24.17 L682.62,22.66 L682.63,21.15 L682.64,19.64 L682.64,18.12 L682.64,16.61 L682.62,15.1 L682.61,13.58 L682.59,12.07 L682.56,10.56 L682.52,9.04 L682.49,7.53 L682.44,6.01 L682.4,4.5" fill="none" stroke="#f0640f" stroke-width="2" stroke-linejoin="round" stroke-linecap="round"/>
<clipPath id="bbb"><rect x="420" y="192.3" width="254.5" height="4"/></clipPath>
<path d="M417.1,195.1 L418.63,195.11 L420.16,195.11 L421.68,195.12 L423.21,195.12 L424.73,195.12 L426.25,195.12 L427.77,195.13 L429.29,195.13 L430.81,195.12 L432.33,195.12 L433.84,195.12 L435.36,195.12 L436.87,195.12 L438.39,195.11 L439.9,195.11 L441.41,195.1 L442.92,195.1 L444.43,195.09 L445.94,195.08 L447.45,195.08 L448.95,195.07 L450.46,195.06 L451.97,195.05 L453.47,195.04 L454.98,195.03 L456.48,195.02 L457.99,195.01 L459.49,195 L460.99,194.99 L462.5,194.98 L464,194.97 L465.5,194.96 L467,194.95 L468.5,194.94 L470,194.93 L471.51,194.92 L473.01,194.91 L474.51,194.9 L476.01,194.89 L477.51,194.88 L479.01,194.87 L480.51,194.86 L482.01,194.85 L483.51,194.84 L485.01,194.83 L486.52,194.82 L488.02,194.81 L489.52,194.8 L491.02,194.79 L492.52,194.78 L494.03,194.78 L495.53,194.77 L497.04,194.76 L498.54,194.76 L500.05,194.75 L501.55,194.75 L503.06,194.74 L504.56,194.74 L506.07,194.73 L507.58,194.73 L509.09,194.73 L510.6,194.73 L512.11,194.73 L513.62,194.73 L515.14,194.73 L516.65,194.73 L518.16,194.74 L519.68,194.74 L521.2,194.75 L522.71,194.75 L524.23,194.76 L525.75,194.77 L527.27,194.77 L528.8,194.78 L530.32,194.79 L531.84,194.8 L533.37,194.8 L534.89,194.8 L536.41,194.81 L537.94,194.81 L539.46,194.8 L540.99,194.8 L542.52,194.79 L544.04,194.78 L545.57,194.76 L547.09,194.74 L548.62,194.72 L550.14,194.69 L551.67,194.66 L553.19,194.62 L554.71,194.57 L556.23,194.52 L557.76,194.47 L559.28,194.4 L560.8,194.33 L562.31,194.25 L563.83,194.17 L565.35,194.07 L566.86,193.97 L568.38,193.86 L569.89,193.74 L571.4,193.61 L572.91,193.47 L574.42,193.32 L575.92,193.16 L577.42,192.99 L578.93,192.81 L580.42,192.62 L581.92,192.41 L583.42,192.19 L584.91,191.97 L586.4,191.72 L587.89,191.47 L589.37,191.2 L590.85,190.92 L592.33,190.62 L593.81,190.31 L595.28,189.99 L596.75,189.65 L598.22,189.29 L599.68,188.92 L601.14,188.54 L602.6,188.13 L604.05,187.71 L605.5,187.28 L606.95,186.83 L608.39,186.36 L609.82,185.87 L611.25,185.37 L612.67,184.85 L614.08,184.32 L615.49,183.77 L616.89,183.2 L618.28,182.61 L619.66,182.01 L621.03,181.39 L622.4,180.75 L623.75,180.1 L625.1,179.43 L626.43,178.74 L627.76,178.03 L629.07,177.31 L630.37,176.56 L631.66,175.8 L632.94,175.02 L634.2,174.23 L635.45,173.41 L636.69,172.58 L637.91,171.73 L639.12,170.86 L640.32,169.98 L641.5,169.07 L642.66,168.15 L643.81,167.2 L644.94,166.24 L646.05,165.26 L647.15,164.26 L648.23,163.25 L649.29,162.21 L650.33,161.15 L651.36,160.08 L652.37,158.99 L653.35,157.87 L654.32,156.74 L655.27,155.6 L656.2,154.43 L657.11,153.25 L658.01,152.05 L658.88,150.84 L659.74,149.61 L660.58,148.37 L661.4,147.11 L662.2,145.84 L662.98,144.55 L663.75,143.25 L664.49,141.94 L665.22,140.62 L665.93,139.28 L666.62,137.94 L667.29,136.58 L667.95,135.21 L668.58,133.83 L669.2,132.44 L669.8,131.04 L670.38,129.64 L670.95,128.22 L671.5,126.8 L672.03,125.36 L672.54,123.92 L673.03,122.48 L673.51,121.02 L673.98,119.56 L674.42,118.1 L674.85,116.62 L675.27,115.15 L675.67,113.66 L676.05,112.17 L676.42,110.68 L676.78,109.18 L677.12,107.68 L677.45,106.17 L677.76,104.67 L678.06,103.15 L678.35,101.64 L678.62,100.12 L678.88,98.6 L679.13,97.08 L679.37,95.55 L679.59,94.03 L679.8,92.5 L680,90.98 L680.19,89.45 L680.37,87.93 L680.54,86.4 L680.69,84.87 L680.84,83.35 L680.98,81.83 L681.1,80.31 L681.22,78.79 L681.33,77.27 L681.43,75.75 L681.52,74.24 L681.6,72.73 L681.67,71.23 L681.74,69.73 L681.79,68.23 L681.84,66.74 L681.89,65.25 L681.92,63.77 L681.95,62.29 L681.97,60.82 L681.99,59.36 L682,57.9 L682,56.45 L682,55" fill="none" stroke="#000" stroke-width="2" stroke-opacity="0.45" clip-path="url(#bbb)"/>
<circle cx="569.3" cy="192.8" r="3.8" fill="#000"/>
<circle cx="602.2" cy="190.1" r="3.8" fill="#000"/>
<circle cx="627.5" cy="185.8" r="3.8" fill="#000"/>
<circle cx="642.6" cy="185.3" r="3.8" fill="#000"/>
<circle cx="664.5" cy="158.5" r="3.8" fill="#000"/>
<circle cx="684.2" cy="88.6" r="3.8" fill="#000" clip-path="url(#cb)"/>
<path d="M544.4,189.8l3.8,5.8h-7.6z" fill="#0a820a"/>
<path d="M589.9,184.5l3.8,5.8h-7.6z" fill="#0a820a"/>
<path d="M606.5,184.1l3.8,5.8h-7.6z" fill="#0a820a"/>
<path d="M625.9,177.1l3.8,5.8h-7.6z" fill="#0a820a"/>
<path d="M647.5,164.2l3.8,5.8h-7.6z" fill="#0a820a"/>
<path d="M669.6,139.7l3.8,5.8h-7.6z" fill="#0a820a"/>
<path d="M665.5,119l3.8,5.8h-7.6z" fill="#0a820a"/>
<path d="M678.9,63.6l3.8,5.8h-7.6z" fill="#0a820a"/>
<path d="M679.4,80.1l3.8,5.8h-7.6z" fill="#0a820a"/>
<path d="M576.9,187.25l3.75,3.75l-3.75,3.75l-3.75,-3.75z" fill="#6414d2"/>
<path d="M601,183.55l3.75,3.75l-3.75,3.75l-3.75,-3.75z" fill="#6414d2"/>
<path d="M619.4,175.55l3.75,3.75l-3.75,3.75l-3.75,-3.75z" fill="#6414d2"/>
<path d="M635.6,169.15l3.75,3.75l-3.75,3.75l-3.75,-3.75z" fill="#6414d2"/>
<path d="M646.4,159.95l3.75,3.75l-3.75,3.75l-3.75,-3.75z" fill="#6414d2"/>
<path d="M665.5,139.25l3.75,3.75l-3.75,3.75l-3.75,-3.75z" fill="#6414d2"/>
<path d="M674.6,118.55l3.75,3.75l-3.75,3.75l-3.75,-3.75z" fill="#6414d2"/>
<path d="M677.7,103.35l3.75,3.75l-3.75,3.75l-3.75,-3.75z" fill="#6414d2"/>
<path d="M677.1,26.25l3.75,3.75l-3.75,3.75l-3.75,-3.75z" fill="#6414d2"/>
<rect x="533.1" y="188.6" width="7.6" height="7.6" fill="#f0640f"/>
<rect x="613.5" y="169.1" width="7.6" height="7.6" fill="#f0640f"/>
<rect x="651.2" y="147.5" width="7.6" height="7.6" fill="#f0640f"/>
<rect x="663.2" y="128.6" width="7.6" height="7.6" fill="#f0640f"/>
<rect x="665.3" y="102.1" width="7.6" height="7.6" fill="#f0640f"/>
<rect x="672.3" y="85.3" width="7.6" height="7.6" fill="#f0640f"/>
<rect x="672.8" y="70.4" width="7.6" height="7.6" fill="#f0640f"/>
<rect x="672.8" y="51.4" width="7.6" height="7.6" fill="#f0640f"/>
<path d="M417,4.5V195.3H681.5" fill="none" stroke="#5a5a5a" stroke-opacity="0.7" stroke-width="1"/>
<path d="M417.5,170.31h2.5" stroke="#5a5a5a" stroke-width="1"/>
<path d="M417.5,146.62h3.5" stroke="#5a5a5a" stroke-width="1"/>
<path d="M417.5,122.94h2.5" stroke="#5a5a5a" stroke-width="1"/>
<path d="M417.5,99.25h3.5" stroke="#5a5a5a" stroke-width="1"/>
<path d="M417.5,75.56h2.5" stroke="#5a5a5a" stroke-width="1"/>
<path d="M417.5,51.88h3.5" stroke="#5a5a5a" stroke-width="1"/>
<path d="M417.5,28.19h2.5" stroke="#5a5a5a" stroke-width="1"/>
<path d="M450.06,195.3v-2.5" stroke="#5a5a5a" stroke-width="1"/>
<path d="M483.12,195.3v-3.5" stroke="#5a5a5a" stroke-width="1"/>
<path d="M516.19,195.3v-2.5" stroke="#5a5a5a" stroke-width="1"/>
<path d="M549.25,195.3v-3.5" stroke="#5a5a5a" stroke-width="1"/>
<path d="M582.31,195.3v-2.5" stroke="#5a5a5a" stroke-width="1"/>
<path d="M615.38,195.3v-3.5" stroke="#5a5a5a" stroke-width="1"/>
<path d="M648.44,195.3v-2.5" stroke="#5a5a5a" stroke-width="1"/>
<path d="M59,257.5H322.5V449" fill="none" stroke="#5a5a5a" stroke-width="1"/>
<path d="M60,449.2 L61.66,449.37 L63.27,449.4 L64.83,449.31 L66.33,449.1 L67.79,448.78 L69.2,448.37 L70.56,447.85 L71.88,447.25 L73.16,446.57 L74.4,445.81 L75.61,444.98 L76.77,444.09 L77.91,443.15 L79.01,442.16 L80.09,441.12 L81.13,440.05 L82.16,438.96 L83.15,437.84 L84.13,436.71 L85.09,435.56 L86.02,434.4 L86.94,433.22 L87.84,432.03 L88.72,430.83 L89.58,429.61 L90.43,428.39 L91.27,427.15 L92.08,425.9 L92.89,424.64 L93.68,423.38 L94.47,422.1 L95.24,420.81 L96,419.52 L96.75,418.22 L97.5,416.92 L98.24,415.61 L98.97,414.29 L99.69,412.97 L100.41,411.64 L101.13,410.31 L101.84,408.98 L102.55,407.64 L103.26,406.31 L103.97,404.97 L104.68,403.63 L105.39,402.29 L106.1,400.95 L106.81,399.61 L107.53,398.28 L108.25,396.94 L108.98,395.61 L109.71,394.28 L110.45,392.96 L111.2,391.64 L111.96,390.32 L112.72,389.02 L113.5,387.71 L114.28,386.41 L115.08,385.12 L115.88,383.83 L116.69,382.55 L117.51,381.28 L118.34,380.01 L119.18,378.75 L120.03,377.5 L120.89,376.25 L121.75,375.01 L122.63,373.77 L123.52,372.55 L124.41,371.33 L125.32,370.11 L126.23,368.91 L127.15,367.71 L128.08,366.52 L129.02,365.34 L129.97,364.17 L130.93,363 L131.9,361.85 L132.87,360.7 L133.86,359.56 L134.86,358.43 L135.86,357.3 L136.87,356.19 L137.9,355.09 L138.93,353.99 L139.97,352.9 L141.02,351.83 L142.07,350.76 L143.14,349.7 L144.22,348.66 L145.3,347.62 L146.4,346.59 L147.5,345.57 L148.62,344.57 L149.74,343.57 L150.87,342.59 L152.01,341.61 L153.16,340.64 L154.31,339.69 L155.48,338.75 L156.65,337.81 L157.83,336.89 L159.02,335.98 L160.22,335.07 L161.43,334.18 L162.64,333.3 L163.86,332.43 L165.09,331.57 L166.32,330.71 L167.57,329.87 L168.82,329.04 L170.07,328.22 L171.34,327.41 L172.61,326.61 L173.89,325.81 L175.17,325.03 L176.46,324.26 L177.76,323.5 L179.06,322.75 L180.37,322.01 L181.68,321.27 L183,320.55 L184.33,319.84 L185.66,319.13 L186.99,318.44 L188.33,317.76 L189.68,317.08 L191.03,316.42 L192.39,315.76 L193.75,315.12 L195.12,314.48 L196.49,313.85 L197.86,313.23 L199.24,312.63 L200.62,312.03 L202.01,311.44 L203.4,310.86 L204.8,310.29 L206.2,309.72 L207.6,309.17 L209,308.63 L210.41,308.09 L211.82,307.57 L213.24,307.05 L214.66,306.55 L216.08,306.05 L217.5,305.56 L218.93,305.08 L220.36,304.6 L221.79,304.14 L223.22,303.68 L224.66,303.23 L226.1,302.79 L227.54,302.36 L228.99,301.93 L230.44,301.52 L231.89,301.11 L233.34,300.7 L234.79,300.31 L236.25,299.92 L237.71,299.54 L239.17,299.17 L240.63,298.8 L242.09,298.44 L243.56,298.09 L245.03,297.74 L246.5,297.4 L247.97,297.07 L249.45,296.74 L250.92,296.42 L252.4,296.1 L253.88,295.79 L255.35,295.49 L256.84,295.19 L258.32,294.89 L259.8,294.61 L261.29,294.33 L262.77,294.05 L264.26,293.78 L265.75,293.51 L267.24,293.25 L268.73,292.99 L270.22,292.74 L271.71,292.49 L273.2,292.25 L274.69,292.01 L276.19,291.77 L277.68,291.54 L279.18,291.32 L280.67,291.09 L282.17,290.87 L283.66,290.66 L285.16,290.45 L286.66,290.24 L288.15,290.03 L289.65,289.83 L291.15,289.63 L292.65,289.44 L294.14,289.25 L295.64,289.06 L297.14,288.87 L298.63,288.69 L300.13,288.5 L301.62,288.32 L303.12,288.15 L304.61,287.97 L306.11,287.8 L307.6,287.63 L309.1,287.46 L310.59,287.29 L312.08,287.12 L313.57,286.96 L315.06,286.8 L316.55,286.64 L318.04,286.47 L319.53,286.32 L321.01,286.16 L322.5,286" fill="none" stroke="#6414d2" stroke-width="2" stroke-linejoin="round" stroke-linecap="round"/>
<path d="M60,449.21 L61.61,449.24 L63.2,449.24 L64.77,449.2 L66.34,449.12 L67.88,449.01 L69.41,448.87 L70.93,448.69 L72.43,448.48 L73.92,448.24 L75.4,447.96 L76.86,447.66 L78.31,447.32 L79.74,446.96 L81.17,446.56 L82.58,446.14 L83.97,445.69 L85.36,445.21 L86.73,444.7 L88.1,444.17 L89.45,443.62 L90.79,443.04 L92.12,442.43 L93.44,441.81 L94.75,441.16 L96.05,440.48 L97.34,439.79 L98.62,439.08 L99.89,438.34 L101.16,437.59 L102.41,436.82 L103.66,436.03 L104.9,435.22 L106.13,434.39 L107.35,433.55 L108.57,432.7 L109.78,431.83 L110.98,430.94 L112.18,430.04 L113.37,429.13 L114.55,428.21 L115.73,427.27 L116.91,426.33 L118.08,425.37 L119.24,424.4 L120.4,423.43 L121.56,422.44 L122.71,421.45 L123.85,420.46 L125,419.45 L126.14,418.44 L127.28,417.43 L128.41,416.41 L129.55,415.38 L130.68,414.36 L131.81,413.33 L132.93,412.3 L134.06,411.26 L135.18,410.23 L136.31,409.2 L137.43,408.17 L138.56,407.13 L139.68,406.1 L140.8,405.07 L141.92,404.04 L143.05,403.01 L144.17,401.98 L145.29,400.96 L146.42,399.93 L147.54,398.91 L148.67,397.89 L149.79,396.87 L150.92,395.86 L152.05,394.84 L153.18,393.83 L154.31,392.83 L155.45,391.82 L156.58,390.82 L157.72,389.82 L158.86,388.83 L160,387.84 L161.15,386.85 L162.3,385.87 L163.45,384.89 L164.6,383.92 L165.76,382.95 L166.92,381.99 L168.09,381.03 L169.26,380.08 L170.43,379.13 L171.6,378.19 L172.78,377.25 L173.97,376.32 L175.16,375.4 L176.35,374.48 L177.55,373.57 L178.75,372.66 L179.96,371.77 L181.17,370.87 L182.39,369.99 L183.61,369.11 L184.83,368.24 L186.06,367.37 L187.3,366.51 L188.54,365.66 L189.78,364.81 L191.02,363.97 L192.27,363.14 L193.53,362.31 L194.79,361.49 L196.05,360.68 L197.32,359.87 L198.59,359.07 L199.87,358.28 L201.15,357.49 L202.43,356.71 L203.72,355.94 L205.01,355.17 L206.31,354.41 L207.61,353.66 L208.91,352.91 L210.22,352.17 L211.53,351.44 L212.84,350.71 L214.16,349.99 L215.49,349.28 L216.81,348.57 L218.14,347.88 L219.48,347.18 L220.82,346.5 L222.16,345.82 L223.5,345.15 L224.85,344.49 L226.2,343.83 L227.56,343.18 L228.92,342.54 L230.28,341.9 L231.65,341.27 L233.02,340.65 L234.39,340.04 L235.77,339.43 L237.15,338.83 L238.53,338.24 L239.92,337.65 L241.31,337.07 L242.7,336.5 L244.1,335.94 L245.5,335.38 L246.9,334.83 L248.31,334.29 L249.72,333.75 L251.13,333.22 L252.54,332.7 L253.96,332.18 L255.38,331.67 L256.8,331.17 L258.23,330.67 L259.66,330.18 L261.09,329.7 L262.52,329.22 L263.96,328.75 L265.39,328.29 L266.83,327.83 L268.27,327.37 L269.72,326.93 L271.16,326.49 L272.61,326.05 L274.06,325.62 L275.51,325.2 L276.96,324.78 L278.42,324.37 L279.87,323.96 L281.33,323.56 L282.79,323.17 L284.25,322.78 L285.71,322.39 L287.17,322.01 L288.64,321.64 L290.1,321.27 L291.57,320.9 L293.04,320.54 L294.51,320.19 L295.98,319.84 L297.45,319.49 L298.92,319.15 L300.39,318.82 L301.86,318.49 L303.33,318.16 L304.81,317.84 L306.28,317.52 L307.75,317.21 L309.23,316.9 L310.7,316.59 L312.18,316.29 L313.65,316 L315.13,315.7 L316.6,315.42 L318.08,315.13 L319.55,314.85 L321.03,314.57 L322.5,314.3" fill="none" stroke="#0a820a" stroke-width="2" stroke-linejoin="round" stroke-linecap="round"/>
<path d="M60,449.2 L61.59,449.31 L63.17,449.41 L64.74,449.48 L66.31,449.53 L67.88,449.55 L69.43,449.55 L70.98,449.54 L72.52,449.5 L74.06,449.44 L75.59,449.35 L77.11,449.25 L78.62,449.13 L80.13,448.99 L81.64,448.83 L83.14,448.65 L84.63,448.45 L86.12,448.23 L87.6,447.99 L89.07,447.74 L90.54,447.46 L92,447.17 L93.46,446.87 L94.92,446.54 L96.36,446.2 L97.81,445.84 L99.25,445.47 L100.68,445.08 L102.11,444.68 L103.53,444.26 L104.95,443.82 L106.36,443.37 L107.77,442.91 L109.18,442.43 L110.58,441.94 L111.98,441.43 L113.37,440.92 L114.76,440.38 L116.14,439.84 L117.52,439.29 L118.9,438.72 L120.27,438.14 L121.64,437.55 L123.01,436.95 L124.37,436.33 L125.73,435.71 L127.08,435.08 L128.44,434.43 L129.79,433.78 L131.13,433.12 L132.48,432.45 L133.82,431.77 L135.15,431.08 L136.49,430.38 L137.82,429.68 L139.15,428.96 L140.48,428.24 L141.81,427.52 L143.13,426.78 L144.45,426.04 L145.77,425.3 L147.09,424.55 L148.4,423.79 L149.72,423.03 L151.03,422.26 L152.34,421.49 L153.65,420.71 L154.96,419.93 L156.26,419.15 L157.57,418.36 L158.87,417.57 L160.17,416.77 L161.48,415.98 L162.78,415.18 L164.08,414.38 L165.38,413.58 L166.68,412.77 L167.97,411.97 L169.27,411.16 L170.57,410.35 L171.87,409.55 L173.16,408.74 L174.46,407.93 L175.76,407.13 L177.05,406.32 L178.35,405.52 L179.65,404.72 L180.95,403.92 L182.24,403.12 L183.54,402.32 L184.84,401.53 L186.14,400.74 L187.44,399.95 L188.74,399.16 L190.04,398.38 L191.35,397.6 L192.65,396.83 L193.96,396.05 L195.26,395.28 L196.57,394.51 L197.87,393.75 L199.18,392.99 L200.49,392.23 L201.8,391.47 L203.11,390.72 L204.42,389.97 L205.74,389.23 L207.05,388.48 L208.37,387.74 L209.69,387.01 L211,386.28 L212.32,385.55 L213.64,384.82 L214.97,384.1 L216.29,383.38 L217.62,382.67 L218.94,381.96 L220.27,381.25 L221.6,380.55 L222.93,379.85 L224.26,379.15 L225.6,378.46 L226.93,377.77 L228.27,377.08 L229.61,376.4 L230.95,375.73 L232.3,375.06 L233.64,374.39 L234.99,373.72 L236.34,373.06 L237.69,372.41 L239.04,371.76 L240.39,371.11 L241.75,370.46 L243.11,369.83 L244.47,369.19 L245.83,368.56 L247.2,367.94 L248.56,367.31 L249.93,366.7 L251.31,366.09 L252.68,365.48 L254.06,364.88 L255.43,364.28 L256.81,363.68 L258.2,363.1 L259.58,362.51 L260.97,361.93 L262.36,361.36 L263.76,360.79 L265.15,360.23 L266.55,359.67 L267.95,359.11 L269.36,358.56 L270.76,358.02 L272.17,357.48 L273.58,356.95 L275,356.42 L276.42,355.89 L277.84,355.37 L279.26,354.86 L280.68,354.35 L282.11,353.84 L283.53,353.34 L284.96,352.84 L286.4,352.35 L287.83,351.86 L289.26,351.37 L290.7,350.89 L292.14,350.41 L293.58,349.94 L295.02,349.46 L296.46,349 L297.9,348.53 L299.35,348.07 L300.79,347.61 L302.24,347.15 L303.68,346.7 L305.13,346.25 L306.58,345.8 L308.02,345.35 L309.47,344.91 L310.92,344.47 L312.37,344.03 L313.82,343.59 L315.27,343.16 L316.71,342.72 L318.16,342.29 L319.61,341.86 L321.06,341.43 L322.5,341" fill="none" stroke="#000000" stroke-width="2" stroke-linejoin="round" stroke-linecap="round"/>
<path d="M60,449.01 L61.29,448.29 L62.45,447.43 L63.49,446.46 L64.42,445.39 L65.27,444.23 L66.04,443 L66.74,441.72 L67.38,440.41 L67.98,439.07 L68.53,437.71 L69.05,436.33 L69.52,434.92 L69.96,433.5 L70.37,432.06 L70.74,430.6 L71.08,429.13 L71.4,427.65 L71.7,426.16 L71.98,424.65 L72.23,423.14 L72.48,421.62 L72.7,420.09 L72.92,418.56 L73.13,417.03 L73.34,415.5 L73.54,413.96 L73.74,412.43 L73.95,410.9 L74.16,409.38 L74.37,407.86 L74.6,406.35 L74.82,404.84 L75.05,403.34 L75.29,401.84 L75.53,400.34 L75.78,398.85 L76.04,397.36 L76.3,395.88 L76.56,394.4 L76.83,392.92 L77.1,391.44 L77.38,389.97 L77.67,388.5 L77.96,387.04 L78.26,385.57 L78.56,384.11 L78.86,382.65 L79.17,381.19 L79.49,379.74 L79.81,378.28 L80.13,376.83 L80.46,375.38 L80.8,373.93 L81.14,372.48 L81.49,371.03 L81.84,369.58 L82.19,368.13 L82.55,366.68 L82.91,365.23 L83.28,363.78 L83.66,362.34 L84.04,360.89 L84.42,359.44 L84.81,357.98 L85.2,356.53 L85.6,355.08 L86,353.62 L86.4,352.17 L86.81,350.71 L87.23,349.25 L87.65,347.79 L88.07,346.33 L88.51,344.87 L88.95,343.41 L89.4,341.95 L89.86,340.49 L90.34,339.04 L90.82,337.59 L91.32,336.15 L91.83,334.72 L92.36,333.29 L92.9,331.87 L93.46,330.46 L94.04,329.05 L94.64,327.66 L95.26,326.28 L95.9,324.91 L96.56,323.56 L97.25,322.21 L97.96,320.89 L98.69,319.57 L99.45,318.28 L100.24,317 L101.05,315.73 L101.88,314.48 L102.74,313.25 L103.63,312.04 L104.53,310.85 L105.46,309.67 L106.41,308.51 L107.39,307.37 L108.38,306.24 L109.4,305.14 L110.44,304.06 L111.49,302.99 L112.57,301.94 L113.66,300.92 L114.78,299.91 L115.91,298.93 L117.06,297.96 L118.22,297.02 L119.41,296.09 L120.61,295.19 L121.82,294.31 L123.05,293.45 L124.29,292.61 L125.55,291.8 L126.82,291.01 L128.11,290.24 L129.41,289.49 L130.72,288.76 L132.04,288.06 L133.37,287.38 L134.72,286.72 L136.07,286.08 L137.44,285.46 L138.82,284.85 L140.2,284.27 L141.6,283.71 L143,283.16 L144.41,282.63 L145.83,282.12 L147.26,281.62 L148.69,281.14 L150.14,280.67 L151.58,280.22 L153.04,279.79 L154.5,279.37 L155.96,278.96 L157.43,278.56 L158.91,278.18 L160.39,277.81 L161.87,277.45 L163.35,277.1 L164.84,276.76 L166.33,276.43 L167.82,276.11 L169.32,275.8 L170.81,275.5 L172.31,275.2 L173.81,274.92 L175.3,274.64 L176.8,274.36 L178.29,274.1 L179.79,273.83 L181.28,273.58 L182.78,273.33 L184.27,273.09 L185.77,272.85 L187.26,272.62 L188.75,272.39 L190.24,272.17 L191.74,271.95 L193.23,271.74 L194.72,271.53 L196.21,271.33 L197.7,271.13 L199.19,270.94 L200.68,270.75 L202.17,270.57 L203.67,270.39 L205.16,270.21 L206.65,270.04 L208.14,269.88 L209.63,269.71 L211.12,269.55 L212.62,269.4 L214.11,269.25 L215.6,269.1 L217.09,268.95 L218.59,268.81 L220.08,268.67 L221.58,268.54 L223.07,268.4 L224.57,268.27 L226.06,268.15 L227.56,268.02 L229.06,267.9 L230.56,267.78 L232.06,267.67 L233.56,267.55 L235.06,267.44 L236.56,267.33 L238.06,267.22 L239.57,267.12 L241.07,267.01 L242.57,266.91 L244.08,266.81 L245.58,266.72 L247.09,266.62 L248.6,266.53 L250.1,266.44 L251.61,266.35 L253.12,266.26 L254.63,266.18 L256.13,266.09 L257.64,266.01 L259.15,265.93 L260.66,265.86 L262.17,265.78 L263.68,265.7 L265.19,265.63 L266.7,265.56 L268.21,265.49 L269.72,265.42 L271.23,265.36 L272.75,265.29 L274.26,265.23 L275.77,265.17 L277.28,265.11 L278.79,265.05 L280.3,264.99 L281.81,264.93 L283.32,264.88 L284.83,264.82 L286.34,264.77 L287.86,264.72 L289.37,264.67 L290.88,264.62 L292.39,264.57 L293.9,264.53 L295.41,264.48 L296.91,264.44 L298.42,264.39 L299.93,264.35 L301.44,264.31 L302.95,264.27 L304.46,264.23 L305.96,264.19 L307.47,264.15 L308.97,264.11 L310.48,264.07 L311.98,264.04 L313.49,264 L314.99,263.97 L316.49,263.93 L318,263.9 L319.5,263.87 L321,263.83 L322.5,263.8" fill="none" stroke="#f0640f" stroke-width="2" stroke-linejoin="round" stroke-linecap="round"/>
<circle cx="129.9" cy="440.4" r="3.8" fill="#000"/>
<circle cx="100.5" cy="442" r="3.8" fill="#000"/>
<circle cx="59" cy="444.1" r="3.8" fill="#000"/>
<circle cx="248.7" cy="381.4" r="3.8" fill="#000"/>
<path d="M165.3,388.2l3.8,5.8h-7.6z" fill="#0a820a"/>
<path d="M138,393.6l3.8,5.8h-7.6z" fill="#0a820a"/>
<path d="M129.9,395.3l3.8,5.8h-7.6z" fill="#0a820a"/>
<path d="M114.3,409.8l3.8,5.8h-7.6z" fill="#0a820a"/>
<path d="M107,399.7l3.8,5.8h-7.6z" fill="#0a820a"/>
<path d="M90.4,438.7l3.8,5.8h-7.6z" fill="#0a820a"/>
<path d="M82.7,436.7l3.8,5.8h-7.6z" fill="#0a820a"/>
<path d="M74.6,441.2l3.8,5.8h-7.6z" fill="#0a820a"/>
<path d="M248.3,332.7l3.8,5.8h-7.6z" fill="#0a820a"/>
<path d="M312.4,315.5l3.8,5.8h-7.6z" fill="#0a820a"/>
<path d="M130.3,354.95l3.75,3.75l-3.75,3.75l-3.75,-3.75z" fill="#6414d2"/>
<path d="M114.3,380.25l3.75,3.75l-3.75,3.75l-3.75,-3.75z" fill="#6414d2"/>
<path d="M100.1,403.55l3.75,3.75l-3.75,3.75l-3.75,-3.75z" fill="#6414d2"/>
<path d="M93.4,414.65l3.75,3.75l-3.75,3.75l-3.75,-3.75z" fill="#6414d2"/>
<path d="M78.9,431.85l3.75,3.75l-3.75,3.75l-3.75,-3.75z" fill="#6414d2"/>
<path d="M74.6,426.75l3.75,3.75l-3.75,3.75l-3.75,-3.75z" fill="#6414d2"/>
<path d="M67.1,432.25l3.75,3.75l-3.75,3.75l-3.75,-3.75z" fill="#6414d2"/>
<path d="M161.8,322.15l3.75,3.75l-3.75,3.75l-3.75,-3.75z" fill="#6414d2"/>
<path d="M248.7,289.75l3.75,3.75l-3.75,3.75l-3.75,-3.75z" fill="#6414d2"/>
<rect x="79.5" y="342.3" width="7.6" height="7.6" fill="#f0640f"/>
<rect x="73.9" y="368.9" width="7.6" height="7.6" fill="#f0640f"/>
<rect x="68.8" y="411.9" width="7.6" height="7.6" fill="#f0640f"/>
<rect x="65.8" y="418" width="7.6" height="7.6" fill="#f0640f"/>
<rect x="63.7" y="437.2" width="7.6" height="7.6" fill="#f0640f"/>
<rect x="60.7" y="442.3" width="7.6" height="7.6" fill="#f0640f"/>
<path d="M59,257.5V449H322.5" fill="none" stroke="#5a5a5a" stroke-opacity="0.7" stroke-width="1"/>
<path d="M59.5,423.93h2.5" stroke="#5a5a5a" stroke-width="1"/>
<path d="M59.5,400.15h3.5" stroke="#5a5a5a" stroke-width="1"/>
<path d="M59.5,376.38h2.5" stroke="#5a5a5a" stroke-width="1"/>
<path d="M59.5,352.6h3.5" stroke="#5a5a5a" stroke-width="1"/>
<path d="M59.5,328.82h2.5" stroke="#5a5a5a" stroke-width="1"/>
<path d="M59.5,305.05h3.5" stroke="#5a5a5a" stroke-width="1"/>
<path d="M59.5,281.27h2.5" stroke="#5a5a5a" stroke-width="1"/>
<path d="M91.94,449v-2.5" stroke="#5a5a5a" stroke-width="1"/>
<path d="M124.88,449v-3.5" stroke="#5a5a5a" stroke-width="1"/>
<path d="M157.81,449v-2.5" stroke="#5a5a5a" stroke-width="1"/>
<path d="M190.75,449v-3.5" stroke="#5a5a5a" stroke-width="1"/>
<path d="M223.69,449v-2.5" stroke="#5a5a5a" stroke-width="1"/>
<path d="M256.62,449v-3.5" stroke="#5a5a5a" stroke-width="1"/>
<path d="M289.56,449v-2.5" stroke="#5a5a5a" stroke-width="1"/>
<path d="M419,257.5H680.5V449" fill="none" stroke="#5a5a5a" stroke-width="1"/>
<path d="M419.2,449 L420.7,448.98 L422.21,448.96 L423.71,448.95 L425.22,448.93 L426.72,448.92 L428.23,448.91 L429.74,448.89 L431.24,448.88 L432.75,448.88 L434.26,448.87 L435.76,448.86 L437.27,448.86 L438.78,448.85 L440.29,448.85 L441.79,448.85 L443.3,448.84 L444.81,448.84 L446.32,448.84 L447.83,448.84 L449.33,448.84 L450.84,448.84 L452.35,448.85 L453.86,448.85 L455.37,448.85 L456.88,448.85 L458.39,448.86 L459.9,448.86 L461.41,448.87 L462.92,448.87 L464.43,448.88 L465.94,448.88 L467.45,448.89 L468.95,448.89 L470.46,448.9 L471.97,448.9 L473.48,448.91 L474.99,448.91 L476.5,448.91 L478.01,448.92 L479.52,448.92 L481.03,448.93 L482.54,448.93 L484.05,448.93 L485.56,448.93 L487.07,448.94 L488.57,448.94 L490.08,448.94 L491.59,448.94 L493.1,448.94 L494.61,448.94 L496.12,448.93 L497.62,448.93 L499.13,448.93 L500.64,448.92 L502.15,448.91 L503.65,448.91 L505.16,448.9 L506.67,448.89 L508.17,448.88 L509.68,448.87 L511.18,448.85 L512.69,448.84 L514.2,448.82 L515.7,448.81 L517.2,448.79 L518.71,448.77 L520.21,448.75 L521.72,448.72 L523.22,448.7 L524.72,448.67 L526.22,448.64 L527.73,448.61 L529.23,448.58 L530.73,448.54 L532.23,448.51 L533.73,448.46 L535.23,448.42 L536.74,448.37 L538.24,448.32 L539.74,448.26 L541.24,448.2 L542.74,448.14 L544.24,448.07 L545.74,448 L547.24,447.92 L548.74,447.83 L550.24,447.74 L551.74,447.65 L553.25,447.55 L554.75,447.44 L556.25,447.33 L557.75,447.21 L559.25,447.08 L560.76,446.95 L562.26,446.81 L563.76,446.66 L565.26,446.51 L566.77,446.34 L568.27,446.17 L569.78,445.99 L571.28,445.81 L572.79,445.61 L574.29,445.4 L575.8,445.19 L577.3,444.96 L578.8,444.73 L580.3,444.48 L581.8,444.22 L583.29,443.95 L584.78,443.66 L586.27,443.36 L587.76,443.05 L589.24,442.73 L590.71,442.39 L592.19,442.04 L593.65,441.67 L595.12,441.28 L596.57,440.88 L598.03,440.47 L599.47,440.03 L600.91,439.58 L602.34,439.11 L603.76,438.62 L605.18,438.12 L606.59,437.59 L607.99,437.05 L609.38,436.48 L610.76,435.9 L612.13,435.29 L613.5,434.67 L614.85,434.02 L616.19,433.35 L617.53,432.67 L618.85,431.96 L620.17,431.24 L621.47,430.5 L622.76,429.73 L624.04,428.95 L625.31,428.15 L626.57,427.34 L627.82,426.5 L629.05,425.65 L630.27,424.78 L631.49,423.89 L632.69,422.99 L633.87,422.07 L635.05,421.13 L636.21,420.18 L637.35,419.21 L638.49,418.22 L639.61,417.22 L640.72,416.21 L641.81,415.18 L642.89,414.13 L643.96,413.07 L645.01,411.99 L646.05,410.9 L647.07,409.8 L648.07,408.68 L649.07,407.55 L650.04,406.41 L651,405.25 L651.95,404.08 L652.88,402.9 L653.79,401.7 L654.69,400.49 L655.57,399.27 L656.44,398.04 L657.28,396.8 L658.11,395.54 L658.93,394.28 L659.72,393 L660.5,391.72 L661.26,390.42 L662,389.11 L662.73,387.79 L663.43,386.46 L664.12,385.13 L664.79,383.78 L665.44,382.43 L666.07,381.06 L666.69,379.69 L667.28,378.31 L667.86,376.92 L668.41,375.52 L668.96,374.12 L669.48,372.71 L669.99,371.29 L670.48,369.86 L670.96,368.43 L671.42,366.99 L671.87,365.55 L672.3,364.1 L672.72,362.65 L673.12,361.19 L673.51,359.73 L673.89,358.26 L674.25,356.79 L674.6,355.32 L674.94,353.84 L675.27,352.36 L675.59,350.87 L675.89,349.39 L676.19,347.9 L676.48,346.41 L676.75,344.91 L677.02,343.42 L677.27,341.92 L677.52,340.43 L677.76,338.93 L677.99,337.43 L678.22,335.94 L678.43,334.44 L678.64,332.94 L678.85,331.44 L679.04,329.95 L679.22,328.45 L679.4,326.95 L679.57,325.46 L679.73,323.96 L679.88,322.47 L680.02,320.97 L680.16,319.47 L680.28,317.98 L680.4,316.48 L680.5,314.98 L680.6,313.48 L680.69,311.99 L680.76,310.49 L680.83,308.99 L680.88,307.49 L680.93,306 L680.96,304.5 L680.99,303 L681,301.5 L681,300" fill="none" stroke="#6414d2" stroke-width="2" stroke-linejoin="round" stroke-linecap="round"/>
<path d="M419.2,449 L420.72,449 L422.23,448.99 L423.75,448.99 L425.27,448.99 L426.78,448.98 L428.3,448.98 L429.81,448.98 L431.32,448.97 L432.84,448.97 L434.35,448.97 L435.86,448.97 L437.38,448.97 L438.89,448.97 L440.4,448.96 L441.91,448.96 L443.42,448.96 L444.93,448.96 L446.44,448.96 L447.95,448.96 L449.46,448.96 L450.97,448.96 L452.48,448.95 L453.99,448.95 L455.5,448.95 L457.01,448.95 L458.51,448.95 L460.02,448.95 L461.53,448.95 L463.04,448.95 L464.55,448.94 L466.05,448.94 L467.56,448.94 L469.07,448.94 L470.58,448.94 L472.08,448.94 L473.59,448.93 L475.1,448.93 L476.6,448.93 L478.11,448.93 L479.62,448.92 L481.13,448.92 L482.63,448.92 L484.14,448.91 L485.65,448.91 L487.15,448.9 L488.66,448.9 L490.17,448.89 L491.68,448.89 L493.19,448.88 L494.69,448.88 L496.2,448.87 L497.71,448.87 L499.22,448.86 L500.73,448.85 L502.24,448.84 L503.75,448.84 L505.26,448.83 L506.77,448.82 L508.28,448.81 L509.79,448.8 L511.3,448.79 L512.81,448.78 L514.32,448.77 L515.83,448.75 L517.35,448.74 L518.86,448.73 L520.37,448.71 L521.89,448.7 L523.4,448.69 L524.91,448.67 L526.43,448.65 L527.94,448.64 L529.46,448.62 L530.98,448.59 L532.49,448.57 L534.01,448.55 L535.52,448.52 L537.04,448.48 L538.55,448.45 L540.07,448.41 L541.59,448.37 L543.1,448.32 L544.61,448.27 L546.13,448.21 L547.64,448.15 L549.15,448.09 L550.67,448.01 L552.18,447.94 L553.69,447.85 L555.2,447.76 L556.71,447.66 L558.21,447.56 L559.72,447.45 L561.23,447.33 L562.73,447.2 L564.23,447.06 L565.74,446.92 L567.24,446.77 L568.74,446.6 L570.23,446.43 L571.73,446.25 L573.23,446.06 L574.72,445.86 L576.21,445.64 L577.7,445.42 L579.19,445.19 L580.67,444.94 L582.15,444.68 L583.64,444.41 L585.12,444.13 L586.59,443.84 L588.07,443.53 L589.54,443.21 L591.01,442.88 L592.48,442.53 L593.94,442.17 L595.41,441.79 L596.87,441.4 L598.32,441 L599.78,440.58 L601.23,440.14 L602.67,439.69 L604.12,439.22 L605.55,438.74 L606.99,438.24 L608.41,437.73 L609.84,437.2 L611.25,436.66 L612.66,436.09 L614.06,435.52 L615.46,434.92 L616.84,434.31 L618.22,433.68 L619.59,433.04 L620.96,432.38 L622.31,431.7 L623.65,431 L624.98,430.29 L626.31,429.56 L627.62,428.81 L628.92,428.04 L630.21,427.26 L631.49,426.46 L632.75,425.64 L634,424.8 L635.24,423.94 L636.47,423.07 L637.68,422.17 L638.88,421.26 L640.06,420.33 L641.23,419.38 L642.39,418.41 L643.53,417.42 L644.65,416.42 L645.76,415.4 L646.85,414.36 L647.93,413.3 L648.99,412.23 L650.03,411.14 L651.05,410.04 L652.06,408.92 L653.05,407.78 L654.03,406.63 L654.98,405.47 L655.92,404.29 L656.84,403.1 L657.74,401.89 L658.63,400.67 L659.49,399.43 L660.33,398.19 L661.16,396.93 L661.96,395.65 L662.75,394.37 L663.51,393.08 L664.26,391.77 L664.98,390.45 L665.68,389.12 L666.37,387.78 L667.03,386.43 L667.67,385.07 L668.28,383.7 L668.88,382.32 L669.45,380.93 L670,379.54 L670.54,378.13 L671.05,376.72 L671.54,375.3 L672.02,373.87 L672.48,372.43 L672.91,370.99 L673.33,369.54 L673.74,368.08 L674.12,366.62 L674.49,365.15 L674.85,363.68 L675.19,362.2 L675.51,360.72 L675.82,359.23 L676.11,357.74 L676.39,356.24 L676.66,354.74 L676.92,353.24 L677.16,351.73 L677.39,350.22 L677.61,348.71 L677.82,347.2 L678.02,345.68 L678.2,344.17 L678.38,342.65 L678.55,341.13 L678.71,339.61 L678.86,338.09 L679.01,336.56 L679.15,335.04 L679.27,333.52 L679.4,332 L679.52,330.48 L679.63,328.97 L679.73,327.45 L679.83,325.94 L679.93,324.42 L680.02,322.91 L680.11,321.4 L680.2,319.89 L680.28,318.39 L680.37,316.89 L680.45,315.39 L680.53,313.89 L680.6,312.4 L680.68,310.91 L680.76,309.43 L680.84,307.95 L680.92,306.47 L681,305" fill="none" stroke="#0a820a" stroke-width="2" stroke-linejoin="round" stroke-linecap="round"/>
<path d="M419.2,449 L420.72,449 L422.23,449 L423.75,449 L425.26,449.01 L426.77,449.01 L428.28,449.01 L429.8,449.01 L431.31,449.01 L432.82,449.01 L434.33,449.01 L435.84,449.01 L437.35,449.01 L438.85,449.01 L440.36,449.01 L441.87,449.01 L443.38,449.01 L444.88,449 L446.39,449 L447.89,449 L449.4,449 L450.9,449 L452.41,449 L453.91,448.99 L455.42,448.99 L456.92,448.99 L458.42,448.99 L459.92,448.99 L461.43,448.98 L462.93,448.98 L464.43,448.98 L465.93,448.97 L467.44,448.97 L468.94,448.97 L470.44,448.96 L471.94,448.96 L473.44,448.96 L474.94,448.95 L476.45,448.95 L477.95,448.94 L479.45,448.94 L480.95,448.93 L482.45,448.93 L483.95,448.92 L485.45,448.92 L486.96,448.91 L488.46,448.91 L489.96,448.9 L491.46,448.9 L492.96,448.89 L494.47,448.89 L495.97,448.88 L497.47,448.87 L498.97,448.87 L500.48,448.86 L501.98,448.85 L503.49,448.85 L504.99,448.84 L506.49,448.83 L508,448.82 L509.5,448.82 L511.01,448.81 L512.52,448.8 L514.02,448.79 L515.53,448.79 L517.04,448.78 L518.55,448.77 L520.06,448.76 L521.56,448.75 L523.07,448.74 L524.58,448.74 L526.1,448.73 L527.61,448.72 L529.12,448.71 L530.63,448.69 L532.14,448.68 L533.66,448.66 L535.17,448.64 L536.68,448.62 L538.19,448.6 L539.71,448.57 L541.22,448.54 L542.73,448.51 L544.24,448.47 L545.76,448.43 L547.27,448.38 L548.78,448.33 L550.29,448.27 L551.8,448.21 L553.31,448.15 L554.82,448.07 L556.33,447.99 L557.83,447.91 L559.34,447.81 L560.85,447.71 L562.35,447.61 L563.86,447.49 L565.36,447.37 L566.86,447.24 L568.36,447.1 L569.86,446.95 L571.36,446.79 L572.86,446.62 L574.35,446.45 L575.84,446.26 L577.34,446.06 L578.83,445.85 L580.32,445.64 L581.8,445.41 L583.29,445.16 L584.77,444.91 L586.25,444.65 L587.73,444.37 L589.21,444.08 L590.69,443.78 L592.16,443.46 L593.63,443.13 L595.1,442.79 L596.57,442.44 L598.03,442.06 L599.49,441.68 L600.95,441.28 L602.41,440.86 L603.86,440.44 L605.31,439.99 L606.75,439.53 L608.18,439.05 L609.62,438.56 L611.04,438.06 L612.46,437.53 L613.87,436.99 L615.28,436.44 L616.68,435.87 L618.07,435.28 L619.45,434.67 L620.82,434.05 L622.18,433.41 L623.54,432.75 L624.88,432.08 L626.22,431.38 L627.54,430.67 L628.85,429.95 L630.16,429.2 L631.44,428.43 L632.72,427.65 L633.99,426.85 L635.24,426.03 L636.47,425.19 L637.7,424.33 L638.91,423.45 L640.1,422.55 L641.28,421.63 L642.45,420.69 L643.6,419.74 L644.73,418.77 L645.85,417.77 L646.95,416.76 L648.04,415.74 L649.11,414.69 L650.16,413.63 L651.19,412.55 L652.21,411.45 L653.21,410.34 L654.19,409.21 L655.15,408.07 L656.09,406.91 L657.02,405.73 L657.92,404.54 L658.81,403.34 L659.67,402.12 L660.52,400.89 L661.34,399.64 L662.15,398.38 L662.93,397.1 L663.69,395.81 L664.43,394.51 L665.16,393.2 L665.86,391.88 L666.54,390.54 L667.21,389.19 L667.85,387.83 L668.48,386.46 L669.09,385.08 L669.68,383.7 L670.25,382.3 L670.8,380.89 L671.34,379.47 L671.85,378.05 L672.35,376.62 L672.84,375.18 L673.31,373.73 L673.76,372.28 L674.19,370.82 L674.61,369.35 L675.01,367.88 L675.4,366.4 L675.77,364.92 L676.13,363.43 L676.47,361.94 L676.8,360.45 L677.11,358.95 L677.41,357.45 L677.7,355.95 L677.97,354.44 L678.23,352.93 L678.47,351.42 L678.7,349.91 L678.92,348.4 L679.13,346.89 L679.33,345.37 L679.51,343.86 L679.68,342.35 L679.84,340.84 L679.99,339.33 L680.13,337.82 L680.25,336.32 L680.37,334.81 L680.47,333.31 L680.57,331.82 L680.65,330.32 L680.73,328.83 L680.8,327.35 L680.85,325.87 L680.9,324.39 L680.94,322.92 L680.97,321.46 L681,320" fill="none" stroke="#000000" stroke-width="2" stroke-linejoin="round" stroke-linecap="round"/>
<path d="M419.2,448.9 L420.72,448.87 L422.23,448.85 L423.74,448.82 L425.26,448.8 L426.77,448.78 L428.28,448.76 L429.8,448.75 L431.31,448.73 L432.82,448.72 L434.33,448.71 L435.84,448.7 L437.35,448.69 L438.86,448.69 L440.37,448.68 L441.88,448.68 L443.39,448.68 L444.9,448.68 L446.41,448.68 L447.92,448.68 L449.43,448.68 L450.93,448.68 L452.44,448.69 L453.95,448.69 L455.46,448.7 L456.96,448.7 L458.47,448.71 L459.98,448.71 L461.48,448.72 L462.99,448.73 L464.5,448.74 L466,448.74 L467.51,448.75 L469.01,448.76 L470.52,448.77 L472.02,448.78 L473.53,448.78 L475.04,448.79 L476.54,448.8 L478.05,448.81 L479.55,448.81 L481.06,448.82 L482.56,448.82 L484.07,448.83 L485.57,448.83 L487.08,448.84 L488.59,448.84 L490.09,448.84 L491.6,448.84 L493.1,448.84 L494.61,448.84 L496.12,448.84 L497.62,448.83 L499.13,448.83 L500.64,448.82 L502.14,448.81 L503.65,448.8 L505.16,448.79 L506.67,448.78 L508.17,448.76 L509.68,448.75 L511.19,448.73 L512.7,448.71 L514.21,448.69 L515.72,448.66 L517.23,448.63 L518.74,448.6 L520.25,448.57 L521.76,448.54 L523.27,448.5 L524.78,448.46 L526.29,448.42 L527.8,448.38 L529.31,448.33 L530.82,448.27 L532.34,448.21 L533.85,448.15 L535.36,448.08 L536.87,448.01 L538.38,447.93 L539.89,447.85 L541.4,447.76 L542.91,447.66 L544.42,447.56 L545.93,447.45 L547.43,447.34 L548.94,447.22 L550.45,447.09 L551.95,446.95 L553.46,446.8 L554.96,446.65 L556.46,446.48 L557.96,446.31 L559.46,446.13 L560.96,445.94 L562.46,445.74 L563.96,445.53 L565.45,445.31 L566.94,445.08 L568.44,444.84 L569.93,444.59 L571.42,444.33 L572.9,444.05 L574.39,443.77 L575.87,443.47 L577.35,443.16 L578.83,442.84 L580.31,442.5 L581.79,442.15 L583.26,441.79 L584.74,441.42 L586.2,441.03 L587.67,440.62 L589.13,440.2 L590.59,439.77 L592.05,439.32 L593.5,438.86 L594.94,438.38 L596.38,437.89 L597.81,437.38 L599.24,436.86 L600.65,436.32 L602.06,435.76 L603.47,435.18 L604.86,434.59 L606.24,433.98 L607.62,433.36 L608.98,432.71 L610.33,432.05 L611.68,431.37 L613.01,430.67 L614.32,429.96 L615.63,429.22 L616.92,428.47 L618.2,427.69 L619.47,426.9 L620.72,426.08 L621.95,425.25 L623.18,424.4 L624.38,423.53 L625.58,422.64 L626.75,421.73 L627.92,420.8 L629.07,419.86 L630.21,418.9 L631.33,417.92 L632.44,416.92 L633.53,415.91 L634.61,414.88 L635.68,413.84 L636.73,412.78 L637.77,411.71 L638.79,410.62 L639.8,409.52 L640.8,408.4 L641.78,407.27 L642.75,406.13 L643.71,404.97 L644.65,403.8 L645.58,402.62 L646.5,401.42 L647.4,400.21 L648.29,398.99 L649.16,397.76 L650.03,396.52 L650.87,395.27 L651.71,394.01 L652.53,392.74 L653.34,391.46 L654.14,390.16 L654.92,388.86 L655.69,387.55 L656.45,386.24 L657.19,384.91 L657.92,383.58 L658.64,382.24 L659.34,380.89 L660.04,379.53 L660.72,378.17 L661.38,376.8 L662.04,375.43 L662.68,374.05 L663.31,372.66 L663.92,371.27 L664.53,369.88 L665.12,368.48 L665.7,367.08 L666.26,365.67 L666.82,364.26 L667.36,362.84 L667.89,361.42 L668.41,359.99 L668.92,358.56 L669.41,357.13 L669.9,355.69 L670.37,354.25 L670.83,352.81 L671.28,351.37 L671.72,349.92 L672.15,348.47 L672.56,347.01 L672.97,345.56 L673.36,344.1 L673.74,342.64 L674.12,341.17 L674.48,339.71 L674.83,338.24 L675.17,336.77 L675.5,335.3 L675.82,333.83 L676.13,332.36 L676.43,330.88 L676.72,329.41 L677,327.93 L677.27,326.45 L677.53,324.97 L677.77,323.49 L678.01,322.01 L678.24,320.52 L678.46,319.04 L678.67,317.55 L678.86,316.07 L679.05,314.58 L679.23,313.09 L679.4,311.6 L679.56,310.11 L679.71,308.61 L679.86,307.12 L679.99,305.63 L680.11,304.13 L680.23,302.63 L680.34,301.14 L680.44,299.64 L680.54,298.14 L680.62,296.64 L680.7,295.13 L680.77,293.63 L680.84,292.13 L680.89,290.62 L680.95,289.12 L680.99,287.61 L681.03,286.1 L681.06,284.6 L681.09,283.09 L681.11,281.58 L681.13,280.07 L681.14,278.56 L681.14,277.04 L681.14,275.53 L681.14,274.02 L681.13,272.5 L681.12,270.99 L681.1,269.47 L681.08,267.95 L681.06,266.44 L681.03,264.92 L681,263.4" fill="none" stroke="#f0640f" stroke-width="2" stroke-linejoin="round" stroke-linecap="round"/>
<clipPath id="bbd"><rect x="422" y="446" width="251.5" height="4"/></clipPath>
<path d="M419.2,449 L420.72,449 L422.23,449 L423.75,449 L425.26,449.01 L426.77,449.01 L428.28,449.01 L429.8,449.01 L431.31,449.01 L432.82,449.01 L434.33,449.01 L435.84,449.01 L437.35,449.01 L438.85,449.01 L440.36,449.01 L441.87,449.01 L443.38,449.01 L444.88,449 L446.39,449 L447.89,449 L449.4,449 L450.9,449 L452.41,449 L453.91,448.99 L455.42,448.99 L456.92,448.99 L458.42,448.99 L459.92,448.99 L461.43,448.98 L462.93,448.98 L464.43,448.98 L465.93,448.97 L467.44,448.97 L468.94,448.97 L470.44,448.96 L471.94,448.96 L473.44,448.96 L474.94,448.95 L476.45,448.95 L477.95,448.94 L479.45,448.94 L480.95,448.93 L482.45,448.93 L483.95,448.92 L485.45,448.92 L486.96,448.91 L488.46,448.91 L489.96,448.9 L491.46,448.9 L492.96,448.89 L494.47,448.89 L495.97,448.88 L497.47,448.87 L498.97,448.87 L500.48,448.86 L501.98,448.85 L503.49,448.85 L504.99,448.84 L506.49,448.83 L508,448.82 L509.5,448.82 L511.01,448.81 L512.52,448.8 L514.02,448.79 L515.53,448.79 L517.04,448.78 L518.55,448.77 L520.06,448.76 L521.56,448.75 L523.07,448.74 L524.58,448.74 L526.1,448.73 L527.61,448.72 L529.12,448.71 L530.63,448.69 L532.14,448.68 L533.66,448.66 L535.17,448.64 L536.68,448.62 L538.19,448.6 L539.71,448.57 L541.22,448.54 L542.73,448.51 L544.24,448.47 L545.76,448.43 L547.27,448.38 L548.78,448.33 L550.29,448.27 L551.8,448.21 L553.31,448.15 L554.82,448.07 L556.33,447.99 L557.83,447.91 L559.34,447.81 L560.85,447.71 L562.35,447.61 L563.86,447.49 L565.36,447.37 L566.86,447.24 L568.36,447.1 L569.86,446.95 L571.36,446.79 L572.86,446.62 L574.35,446.45 L575.84,446.26 L577.34,446.06 L578.83,445.85 L580.32,445.64 L581.8,445.41 L583.29,445.16 L584.77,444.91 L586.25,444.65 L587.73,444.37 L589.21,444.08 L590.69,443.78 L592.16,443.46 L593.63,443.13 L595.1,442.79 L596.57,442.44 L598.03,442.06 L599.49,441.68 L600.95,441.28 L602.41,440.86 L603.86,440.44 L605.31,439.99 L606.75,439.53 L608.18,439.05 L609.62,438.56 L611.04,438.06 L612.46,437.53 L613.87,436.99 L615.28,436.44 L616.68,435.87 L618.07,435.28 L619.45,434.67 L620.82,434.05 L622.18,433.41 L623.54,432.75 L624.88,432.08 L626.22,431.38 L627.54,430.67 L628.85,429.95 L630.16,429.2 L631.44,428.43 L632.72,427.65 L633.99,426.85 L635.24,426.03 L636.47,425.19 L637.7,424.33 L638.91,423.45 L640.1,422.55 L641.28,421.63 L642.45,420.69 L643.6,419.74 L644.73,418.77 L645.85,417.77 L646.95,416.76 L648.04,415.74 L649.11,414.69 L650.16,413.63 L651.19,412.55 L652.21,411.45 L653.21,410.34 L654.19,409.21 L655.15,408.07 L656.09,406.91 L657.02,405.73 L657.92,404.54 L658.81,403.34 L659.67,402.12 L660.52,400.89 L661.34,399.64 L662.15,398.38 L662.93,397.1 L663.69,395.81 L664.43,394.51 L665.16,393.2 L665.86,391.88 L666.54,390.54 L667.21,389.19 L667.85,387.83 L668.48,386.46 L669.09,385.08 L669.68,383.7 L670.25,382.3 L670.8,380.89 L671.34,379.47 L671.85,378.05 L672.35,376.62 L672.84,375.18 L673.31,373.73 L673.76,372.28 L674.19,370.82 L674.61,369.35 L675.01,367.88 L675.4,366.4 L675.77,364.92 L676.13,363.43 L676.47,361.94 L676.8,360.45 L677.11,358.95 L677.41,357.45 L677.7,355.95 L677.97,354.44 L678.23,352.93 L678.47,351.42 L678.7,349.91 L678.92,348.4 L679.13,346.89 L679.33,345.37 L679.51,343.86 L679.68,342.35 L679.84,340.84 L679.99,339.33 L680.13,337.82 L680.25,336.32 L680.37,334.81 L680.47,333.31 L680.57,331.82 L680.65,330.32 L680.73,328.83 L680.8,327.35 L680.85,325.87 L680.9,324.39 L680.94,322.92 L680.97,321.46 L681,320" fill="none" stroke="#000" stroke-width="2" stroke-opacity="0.45" clip-path="url(#bbd)"/>
<circle cx="443" cy="444.4" r="3.8" fill="#000"/>
<circle cx="574.7" cy="442.3" r="3.8" fill="#000"/>
<circle cx="618.5" cy="440.5" r="3.8" fill="#000"/>
<circle cx="673.7" cy="381.4" r="3.8" fill="#000"/>
<path d="M549.8,436.3l3.8,5.8h-7.6z" fill="#0a820a"/>
<path d="M570.3,437.5l3.8,5.8h-7.6z" fill="#0a820a"/>
<path d="M516.9,441.7l3.8,5.8h-7.6z" fill="#0a820a"/>
<path d="M608.3,403.5l3.8,5.8h-7.6z" fill="#0a820a"/>
<path d="M621.8,399.4l3.8,5.8h-7.6z" fill="#0a820a"/>
<path d="M628.4,409.3l3.8,5.8h-7.6z" fill="#0a820a"/>
<path d="M645.4,395.1l3.8,5.8h-7.6z" fill="#0a820a"/>
<path d="M652.1,393.7l3.8,5.8h-7.6z" fill="#0a820a"/>
<path d="M668.1,389l3.8,5.8h-7.6z" fill="#0a820a"/>
<path d="M679.2,333.2l3.8,5.8h-7.6z" fill="#0a820a"/>
<path d="M679.5,315.5l3.8,5.8h-7.6z" fill="#0a820a"/>
<path d="M548.7,436.55l3.75,3.75l-3.75,3.75l-3.75,-3.75z" fill="#6414d2"/>
<path d="M575.1,426.65l3.75,3.75l-3.75,3.75l-3.75,-3.75z" fill="#6414d2"/>
<path d="M591.4,430.95l3.75,3.75l-3.75,3.75l-3.75,-3.75z" fill="#6414d2"/>
<path d="M525.5,433.25l3.75,3.75l-3.75,3.75l-3.75,-3.75z" fill="#6414d2"/>
<path d="M638.6,413.25l3.75,3.75l-3.75,3.75l-3.75,-3.75z" fill="#6414d2"/>
<path d="M650.2,403.15l3.75,3.75l-3.75,3.75l-3.75,-3.75z" fill="#6414d2"/>
<path d="M667,380.05l3.75,3.75l-3.75,3.75l-3.75,-3.75z" fill="#6414d2"/>
<path d="M671.9,355.75l3.75,3.75l-3.75,3.75l-3.75,-3.75z" fill="#6414d2"/>
<path d="M679.2,322.35l3.75,3.75l-3.75,3.75l-3.75,-3.75z" fill="#6414d2"/>
<path d="M678.7,290.25l3.75,3.75l-3.75,3.75l-3.75,-3.75z" fill="#6414d2"/>
<rect x="544.9" y="441.9" width="7.6" height="7.6" fill="#f0640f"/>
<rect x="587.6" y="437.4" width="7.6" height="7.6" fill="#f0640f"/>
<rect x="621.3" y="418.3" width="7.6" height="7.6" fill="#f0640f"/>
<rect x="635.5" y="412.1" width="7.6" height="7.6" fill="#f0640f"/>
<rect x="662" y="369.1" width="7.6" height="7.6" fill="#f0640f"/>
<rect x="669.3" y="342.4" width="7.6" height="7.6" fill="#f0640f"/>
<path d="M419,257.5V449H680.5" fill="none" stroke="#5a5a5a" stroke-opacity="0.7" stroke-width="1"/>
<path d="M419.5,423.93h2.5" stroke="#5a5a5a" stroke-width="1"/>
<path d="M419.5,400.15h3.5" stroke="#5a5a5a" stroke-width="1"/>
<path d="M419.5,376.38h2.5" stroke="#5a5a5a" stroke-width="1"/>
<path d="M419.5,352.6h3.5" stroke="#5a5a5a" stroke-width="1"/>
<path d="M419.5,328.82h2.5" stroke="#5a5a5a" stroke-width="1"/>
<path d="M419.5,305.05h3.5" stroke="#5a5a5a" stroke-width="1"/>
<path d="M419.5,281.27h2.5" stroke="#5a5a5a" stroke-width="1"/>
<path d="M451.69,449v-2.5" stroke="#5a5a5a" stroke-width="1"/>
<path d="M484.38,449v-3.5" stroke="#5a5a5a" stroke-width="1"/>
<path d="M517.06,449v-2.5" stroke="#5a5a5a" stroke-width="1"/>
<path d="M549.75,449v-3.5" stroke="#5a5a5a" stroke-width="1"/>
<path d="M582.44,449v-2.5" stroke="#5a5a5a" stroke-width="1"/>
<path d="M615.12,449v-3.5" stroke="#5a5a5a" stroke-width="1"/>
<path d="M647.81,449v-2.5" stroke="#5a5a5a" stroke-width="1"/>
<path d="M53.5,512.5H318V703" fill="none" stroke="#5a5a5a" stroke-width="1"/>
<path d="M54,702.8 L55.51,702.83 L57.02,702.86 L58.54,702.88 L60.06,702.89 L61.59,702.89 L63.12,702.88 L64.65,702.85 L66.18,702.81 L67.71,702.75 L69.24,702.67 L70.76,702.57 L72.28,702.45 L73.8,702.3 L75.31,702.13 L76.81,701.93 L78.3,701.69 L79.79,701.43 L81.26,701.13 L82.73,700.8 L84.18,700.43 L85.62,700.03 L87.04,699.58 L88.45,699.09 L89.84,698.56 L91.22,697.99 L92.59,697.38 L93.94,696.73 L95.27,696.05 L96.6,695.35 L97.91,694.61 L99.21,693.85 L100.5,693.06 L101.78,692.25 L103.05,691.42 L104.32,690.58 L105.57,689.72 L106.82,688.85 L108.07,687.97 L109.3,687.08 L110.53,686.18 L111.76,685.28 L112.98,684.38 L114.2,683.47 L115.42,682.55 L116.63,681.64 L117.83,680.71 L119.03,679.79 L120.23,678.86 L121.43,677.93 L122.62,676.99 L123.81,676.05 L124.99,675.11 L126.17,674.17 L127.35,673.22 L128.53,672.27 L129.71,671.31 L130.88,670.36 L132.05,669.4 L133.22,668.44 L134.39,667.48 L135.56,666.52 L136.73,665.56 L137.89,664.59 L139.06,663.63 L140.22,662.66 L141.38,661.69 L142.55,660.72 L143.71,659.76 L144.87,658.79 L146.03,657.82 L147.2,656.85 L148.36,655.88 L149.53,654.91 L150.69,653.95 L151.86,652.98 L153.02,652.01 L154.19,651.05 L155.36,650.09 L156.54,649.13 L157.71,648.16 L158.88,647.21 L160.06,646.25 L161.24,645.29 L162.42,644.34 L163.6,643.39 L164.79,642.45 L165.97,641.5 L167.16,640.56 L168.35,639.62 L169.54,638.69 L170.74,637.75 L171.94,636.83 L173.14,635.9 L174.34,634.98 L175.55,634.06 L176.76,633.15 L177.97,632.24 L179.19,631.34 L180.4,630.44 L181.63,629.55 L182.85,628.66 L184.08,627.78 L185.31,626.9 L186.55,626.03 L187.79,625.16 L189.03,624.3 L190.28,623.45 L191.53,622.6 L192.78,621.76 L194.04,620.92 L195.3,620.09 L196.57,619.27 L197.84,618.45 L199.11,617.64 L200.39,616.84 L201.67,616.04 L202.96,615.25 L204.24,614.46 L205.54,613.68 L206.83,612.91 L208.13,612.14 L209.43,611.38 L210.74,610.62 L212.05,609.87 L213.36,609.13 L214.68,608.39 L216,607.66 L217.32,606.93 L218.65,606.21 L219.97,605.5 L221.31,604.79 L222.64,604.09 L223.98,603.39 L225.32,602.7 L226.67,602.02 L228.02,601.34 L229.37,600.67 L230.72,600 L232.08,599.34 L233.44,598.69 L234.81,598.04 L236.17,597.39 L237.54,596.76 L238.91,596.12 L240.29,595.5 L241.67,594.88 L243.05,594.26 L244.43,593.65 L245.82,593.05 L247.2,592.45 L248.6,591.86 L249.99,591.28 L251.39,590.7 L252.79,590.13 L254.19,589.56 L255.59,589 L257,588.45 L258.41,587.9 L259.82,587.36 L261.24,586.83 L262.65,586.3 L264.07,585.77 L265.5,585.26 L266.92,584.75 L268.35,584.25 L269.78,583.75 L271.21,583.26 L272.64,582.78 L274.08,582.3 L275.52,581.83 L276.96,581.37 L278.4,580.91 L279.84,580.46 L281.29,580.01 L282.74,579.58 L284.19,579.15 L285.65,578.72 L287.1,578.31 L288.56,577.9 L290.02,577.5 L291.48,577.1 L292.94,576.71 L294.41,576.33 L295.88,575.96 L297.34,575.59 L298.82,575.23 L300.29,574.87 L301.76,574.53 L303.24,574.19 L304.72,573.86 L306.2,573.53 L307.68,573.21 L309.16,572.9 L310.65,572.6 L312.14,572.31 L313.62,572.02 L315.12,571.74 L316.61,571.47 L318.1,571.2" fill="none" stroke="#6414d2" stroke-width="2" stroke-linejoin="round" stroke-linecap="round"/>
<path d="M54,702.9 L55.52,702.95 L57.04,703 L58.55,703.05 L60.07,703.08 L61.59,703.11 L63.11,703.12 L64.63,703.13 L66.15,703.13 L67.67,703.12 L69.18,703.1 L70.7,703.08 L72.22,703.04 L73.73,703 L75.25,702.95 L76.77,702.89 L78.28,702.82 L79.79,702.74 L81.31,702.66 L82.82,702.56 L84.33,702.46 L85.84,702.34 L87.35,702.22 L88.86,702.09 L90.36,701.95 L91.87,701.8 L93.37,701.64 L94.87,701.47 L96.37,701.3 L97.87,701.11 L99.37,700.92 L100.87,700.71 L102.36,700.5 L103.85,700.28 L105.35,700.05 L106.83,699.8 L108.32,699.55 L109.81,699.29 L111.29,699.03 L112.77,698.75 L114.25,698.46 L115.73,698.16 L117.2,697.85 L118.67,697.54 L120.14,697.21 L121.61,696.88 L123.07,696.53 L124.53,696.18 L125.99,695.81 L127.45,695.44 L128.9,695.05 L130.35,694.66 L131.8,694.26 L133.25,693.85 L134.69,693.43 L136.13,693 L137.57,692.57 L139.01,692.12 L140.44,691.67 L141.88,691.21 L143.31,690.74 L144.74,690.27 L146.16,689.79 L147.59,689.3 L149.01,688.8 L150.43,688.3 L151.84,687.79 L153.26,687.28 L154.68,686.76 L156.09,686.23 L157.5,685.7 L158.91,685.16 L160.31,684.61 L161.72,684.06 L163.12,683.51 L164.52,682.95 L165.93,682.38 L167.32,681.81 L168.72,681.24 L170.12,680.66 L171.51,680.08 L172.91,679.49 L174.3,678.9 L175.69,678.31 L177.08,677.71 L178.47,677.11 L179.85,676.51 L181.24,675.9 L182.62,675.29 L184.01,674.68 L185.39,674.07 L186.77,673.45 L188.15,672.83 L189.53,672.21 L190.91,671.59 L192.29,670.97 L193.67,670.34 L195.05,669.71 L196.42,669.09 L197.8,668.46 L199.17,667.83 L200.55,667.19 L201.92,666.56 L203.29,665.93 L204.67,665.29 L206.04,664.66 L207.41,664.02 L208.78,663.39 L210.16,662.75 L211.53,662.12 L212.9,661.48 L214.27,660.84 L215.64,660.21 L217.02,659.57 L218.39,658.94 L219.76,658.3 L221.13,657.67 L222.5,657.03 L223.88,656.4 L225.25,655.77 L226.62,655.14 L228,654.51 L229.37,653.88 L230.74,653.25 L232.12,652.62 L233.49,652 L234.87,651.38 L236.25,650.75 L237.63,650.13 L239,649.52 L240.38,648.9 L241.76,648.29 L243.14,647.68 L244.53,647.07 L245.91,646.46 L247.29,645.86 L248.68,645.26 L250.06,644.66 L251.45,644.07 L252.84,643.47 L254.23,642.88 L255.62,642.3 L257.01,641.72 L258.41,641.14 L259.8,640.56 L261.2,639.99 L262.6,639.42 L264,638.86 L265.4,638.3 L266.8,637.74 L268.21,637.19 L269.61,636.64 L271.02,636.09 L272.43,635.54 L273.84,635 L275.25,634.47 L276.66,633.93 L278.08,633.4 L279.49,632.88 L280.91,632.35 L282.33,631.83 L283.74,631.31 L285.16,630.79 L286.59,630.28 L288.01,629.77 L289.43,629.26 L290.86,628.76 L292.28,628.26 L293.71,627.76 L295.14,627.26 L296.57,626.77 L297.99,626.27 L299.43,625.78 L300.86,625.3 L302.29,624.81 L303.72,624.33 L305.16,623.85 L306.59,623.37 L308.03,622.89 L309.47,622.42 L310.9,621.94 L312.34,621.47 L313.78,621 L315.22,620.53 L316.66,620.07 L318.1,619.6" fill="none" stroke="#0a820a" stroke-width="2" stroke-linejoin="round" stroke-linecap="round"/>
<path d="M54,702.89 L55.51,702.95 L57.03,703 L58.54,703.05 L60.06,703.09 L61.57,703.13 L63.09,703.16 L64.6,703.19 L66.12,703.22 L67.63,703.24 L69.15,703.26 L70.66,703.28 L72.18,703.29 L73.69,703.29 L75.21,703.29 L76.72,703.29 L78.24,703.29 L79.75,703.27 L81.27,703.26 L82.78,703.24 L84.3,703.22 L85.81,703.19 L87.33,703.16 L88.84,703.12 L90.36,703.08 L91.87,703.03 L93.38,702.99 L94.9,702.93 L96.41,702.87 L97.92,702.81 L99.43,702.74 L100.95,702.67 L102.46,702.6 L103.97,702.51 L105.48,702.43 L106.99,702.34 L108.5,702.25 L110.01,702.15 L111.52,702.04 L113.03,701.94 L114.54,701.82 L116.05,701.71 L117.55,701.59 L119.06,701.46 L120.57,701.33 L122.07,701.19 L123.58,701.05 L125.08,700.91 L126.59,700.76 L128.09,700.6 L129.59,700.45 L131.1,700.28 L132.6,700.11 L134.1,699.94 L135.6,699.76 L137.1,699.58 L138.6,699.39 L140.1,699.2 L141.59,699 L143.09,698.8 L144.59,698.59 L146.08,698.38 L147.58,698.16 L149.07,697.94 L150.56,697.71 L152.05,697.48 L153.54,697.24 L155.03,697 L156.52,696.76 L158.01,696.5 L159.5,696.25 L160.98,695.98 L162.47,695.72 L163.95,695.44 L165.44,695.17 L166.92,694.89 L168.4,694.6 L169.88,694.3 L171.36,694.01 L172.84,693.7 L174.32,693.4 L175.79,693.08 L177.27,692.76 L178.74,692.44 L180.21,692.11 L181.68,691.78 L183.15,691.44 L184.62,691.09 L186.09,690.74 L187.56,690.38 L189.02,690.02 L190.49,689.66 L191.95,689.29 L193.41,688.91 L194.87,688.53 L196.33,688.14 L197.79,687.75 L199.24,687.35 L200.7,686.95 L202.15,686.55 L203.61,686.14 L205.06,685.73 L206.51,685.31 L207.96,684.89 L209.41,684.47 L210.86,684.04 L212.31,683.61 L213.76,683.18 L215.21,682.74 L216.65,682.3 L218.1,681.86 L219.55,681.42 L220.99,680.97 L222.43,680.52 L223.88,680.07 L225.32,679.61 L226.76,679.16 L228.21,678.7 L229.65,678.24 L231.09,677.78 L232.53,677.31 L233.97,676.85 L235.41,676.38 L236.85,675.92 L238.29,675.45 L239.73,674.98 L241.17,674.51 L242.61,674.04 L244.05,673.57 L245.49,673.1 L246.93,672.63 L248.37,672.16 L249.81,671.69 L251.25,671.22 L252.69,670.75 L254.13,670.28 L255.57,669.81 L257.01,669.34 L258.45,668.87 L259.89,668.41 L261.33,667.94 L262.77,667.48 L264.21,667.02 L265.66,666.55 L267.1,666.1 L268.54,665.64 L269.98,665.18 L271.43,664.73 L272.87,664.28 L274.32,663.83 L275.76,663.38 L277.21,662.94 L278.66,662.5 L280.1,662.06 L281.55,661.62 L283,661.19 L284.45,660.76 L285.9,660.34 L287.35,659.91 L288.81,659.5 L290.26,659.08 L291.72,658.67 L293.17,658.26 L294.63,657.86 L296.09,657.46 L297.54,657.07 L299,656.68 L300.47,656.3 L301.93,655.92 L303.39,655.54 L304.86,655.17 L306.32,654.81 L307.79,654.45 L309.26,654.1 L310.73,653.75 L312.2,653.41 L313.67,653.07 L315.15,652.74 L316.62,652.42 L318.1,652.1" fill="none" stroke="#000000" stroke-width="2" stroke-linejoin="round" stroke-linecap="round"/>
<path d="M54,702.5 L55.74,702.48 L57.37,702.33 L58.92,702.04 L60.37,701.64 L61.73,701.12 L63.01,700.49 L64.22,699.77 L65.36,698.96 L66.42,698.06 L67.43,697.09 L68.37,696.04 L69.26,694.94 L70.1,693.78 L70.9,692.57 L71.66,691.32 L72.38,690.04 L73.07,688.74 L73.74,687.41 L74.38,686.07 L74.99,684.71 L75.58,683.33 L76.16,681.94 L76.71,680.53 L77.25,679.11 L77.77,677.68 L78.28,676.24 L78.77,674.79 L79.26,673.33 L79.74,671.87 L80.21,670.4 L80.68,668.93 L81.14,667.45 L81.6,665.98 L82.06,664.5 L82.52,663.03 L82.99,661.55 L83.46,660.09 L83.94,658.62 L84.43,657.17 L84.93,655.72 L85.43,654.28 L85.95,652.84 L86.48,651.42 L87.02,650 L87.57,648.58 L88.13,647.18 L88.7,645.78 L89.27,644.39 L89.86,643 L90.45,641.62 L91.05,640.24 L91.66,638.87 L92.28,637.5 L92.9,636.14 L93.53,634.78 L94.17,633.43 L94.82,632.08 L95.47,630.73 L96.12,629.39 L96.79,628.05 L97.45,626.71 L98.13,625.38 L98.81,624.04 L99.49,622.71 L100.17,621.38 L100.87,620.05 L101.56,618.73 L102.26,617.4 L102.96,616.07 L103.66,614.75 L104.37,613.42 L105.08,612.1 L105.79,610.77 L106.51,609.44 L107.22,608.12 L107.94,606.79 L108.67,605.46 L109.4,604.14 L110.13,602.82 L110.88,601.5 L111.63,600.19 L112.4,598.89 L113.18,597.59 L113.97,596.31 L114.77,595.03 L115.59,593.76 L116.43,592.5 L117.29,591.25 L118.16,590.02 L119.05,588.8 L119.97,587.6 L120.91,586.41 L121.87,585.24 L122.86,584.09 L123.87,582.95 L124.9,581.84 L125.96,580.74 L127.03,579.66 L128.12,578.59 L129.23,577.54 L130.35,576.51 L131.49,575.5 L132.64,574.51 L133.8,573.53 L134.97,572.57 L136.15,571.62 L137.34,570.69 L138.54,569.78 L139.75,568.88 L140.97,568 L142.19,567.14 L143.43,566.29 L144.68,565.46 L145.93,564.64 L147.19,563.83 L148.46,563.04 L149.74,562.27 L151.03,561.51 L152.33,560.76 L153.63,560.03 L154.94,559.31 L156.26,558.61 L157.59,557.92 L158.92,557.24 L160.26,556.57 L161.6,555.92 L162.96,555.28 L164.32,554.65 L165.68,554.04 L167.06,553.44 L168.44,552.84 L169.82,552.26 L171.21,551.7 L172.61,551.14 L174.01,550.6 L175.42,550.06 L176.83,549.54 L178.24,549.02 L179.67,548.52 L181.09,548.03 L182.52,547.55 L183.96,547.07 L185.4,546.61 L186.84,546.16 L188.29,545.71 L189.74,545.28 L191.19,544.85 L192.65,544.43 L194.11,544.02 L195.58,543.62 L197.05,543.23 L198.52,542.84 L199.99,542.46 L201.47,542.09 L202.94,541.73 L204.42,541.38 L205.9,541.03 L207.39,540.68 L208.87,540.35 L210.36,540.02 L211.85,539.7 L213.34,539.38 L214.83,539.07 L216.32,538.76 L217.81,538.47 L219.31,538.17 L220.8,537.88 L222.29,537.6 L223.79,537.32 L225.28,537.04 L226.78,536.77 L228.27,536.5 L229.76,536.24 L231.26,535.98 L232.75,535.72 L234.24,535.47 L235.73,535.22 L237.22,534.98 L238.71,534.74 L240.2,534.5 L241.69,534.27 L243.17,534.03 L244.66,533.81 L246.15,533.58 L247.64,533.36 L249.12,533.15 L250.61,532.93 L252.1,532.72 L253.58,532.52 L255.07,532.32 L256.56,532.12 L258.04,531.92 L259.53,531.73 L261.02,531.54 L262.51,531.35 L263.99,531.17 L265.48,530.99 L266.97,530.82 L268.46,530.65 L269.95,530.48 L271.44,530.31 L272.93,530.15 L274.42,529.99 L275.91,529.84 L277.4,529.68 L278.89,529.54 L280.39,529.39 L281.88,529.25 L283.38,529.11 L284.87,528.98 L286.37,528.84 L287.87,528.71 L289.37,528.59 L290.87,528.47 L292.37,528.35 L293.87,528.23 L295.37,528.12 L296.88,528.01 L298.38,527.9 L299.89,527.8 L301.4,527.7 L302.91,527.6 L304.42,527.51 L305.93,527.42 L307.45,527.33 L308.97,527.24 L310.48,527.16 L312,527.08 L313.53,527.01 L315.05,526.94 L316.57,526.87 L318.1,526.8" fill="none" stroke="#f0640f" stroke-width="2" stroke-linejoin="round" stroke-linecap="round"/>
<circle cx="56.6" cy="690.8" r="3.8" fill="#000"/>
<circle cx="72.8" cy="691.8" r="3.8" fill="#000"/>
<circle cx="243.7" cy="671.2" r="3.8" fill="#000"/>
<path d="M140,692.3l3.8,5.8h-7.6z" fill="#0a820a"/>
<path d="M114.8,695.6l3.8,5.8h-7.6z" fill="#0a820a"/>
<path d="M106.7,698.6l3.8,5.8h-7.6z" fill="#0a820a"/>
<path d="M92.5,699.1l3.8,5.8h-7.6z" fill="#0a820a"/>
<path d="M57.1,699.6l3.8,5.8h-7.6z" fill="#0a820a"/>
<path d="M244.1,612.2l3.8,5.8h-7.6z" fill="#0a820a"/>
<path d="M140.6,640.65l3.75,3.75l-3.75,3.75l-3.75,-3.75z" fill="#6414d2"/>
<path d="M128.5,655.45l3.75,3.75l-3.75,3.75l-3.75,-3.75z" fill="#6414d2"/>
<path d="M116.8,655.85l3.75,3.75l-3.75,3.75l-3.75,-3.75z" fill="#6414d2"/>
<path d="M108.7,679.95l3.75,3.75l-3.75,3.75l-3.75,-3.75z" fill="#6414d2"/>
<path d="M100.6,695.15l3.75,3.75l-3.75,3.75l-3.75,-3.75z" fill="#6414d2"/>
<path d="M86.4,691.35l3.75,3.75l-3.75,3.75l-3.75,-3.75z" fill="#6414d2"/>
<path d="M79.9,689.05l3.75,3.75l-3.75,3.75l-3.75,-3.75z" fill="#6414d2"/>
<path d="M52.6,697.15l3.75,3.75l-3.75,3.75l-3.75,-3.75z" fill="#6414d2"/>
<path d="M243.7,573.65l3.75,3.75l-3.75,3.75l-3.75,-3.75z" fill="#6414d2"/>
<path d="M307.4,548.15l3.75,3.75l-3.75,3.75l-3.75,-3.75z" fill="#6414d2"/>
<rect x="84" y="623.9" width="7.6" height="7.6" fill="#f0640f"/>
<rect x="77.6" y="650.2" width="7.6" height="7.6" fill="#f0640f"/>
<rect x="68" y="680.9" width="7.6" height="7.6" fill="#f0640f"/>
<rect x="58.9" y="688" width="7.6" height="7.6" fill="#f0640f"/>
<rect x="55.8" y="693.6" width="7.6" height="7.6" fill="#f0640f"/>
<rect x="64.9" y="693.1" width="7.6" height="7.6" fill="#f0640f"/>
<rect x="60.2" y="695.2" width="7.6" height="7.6" fill="#f0640f"/>
<path d="M53.5,512.5V703H318" fill="none" stroke="#5a5a5a" stroke-opacity="0.7" stroke-width="1"/>
<path d="M54,678.05h2.5" stroke="#5a5a5a" stroke-width="1"/>
<path d="M54,654.4h3.5" stroke="#5a5a5a" stroke-width="1"/>
<path d="M54,630.75h2.5" stroke="#5a5a5a" stroke-width="1"/>
<path d="M54,607.1h3.5" stroke="#5a5a5a" stroke-width="1"/>
<path d="M54,583.45h2.5" stroke="#5a5a5a" stroke-width="1"/>
<path d="M54,559.8h3.5" stroke="#5a5a5a" stroke-width="1"/>
<path d="M54,536.15h2.5" stroke="#5a5a5a" stroke-width="1"/>
<path d="M86.56,703v-2.5" stroke="#5a5a5a" stroke-width="1"/>
<path d="M119.62,703v-3.5" stroke="#5a5a5a" stroke-width="1"/>
<path d="M152.69,703v-2.5" stroke="#5a5a5a" stroke-width="1"/>
<path d="M185.75,703v-3.5" stroke="#5a5a5a" stroke-width="1"/>
<path d="M218.81,703v-2.5" stroke="#5a5a5a" stroke-width="1"/>
<path d="M251.88,703v-3.5" stroke="#5a5a5a" stroke-width="1"/>
<path d="M284.94,703v-2.5" stroke="#5a5a5a" stroke-width="1"/>
<path d="M411,512.5H675.5V702" fill="none" stroke="#5a5a5a" stroke-width="1"/>
<path d="M411.1,702 L412.61,701.99 L414.13,701.98 L415.64,701.96 L417.16,701.95 L418.67,701.94 L420.18,701.93 L421.69,701.92 L423.21,701.92 L424.72,701.91 L426.23,701.9 L427.74,701.89 L429.26,701.89 L430.77,701.88 L432.28,701.87 L433.79,701.87 L435.3,701.86 L436.81,701.86 L438.32,701.85 L439.83,701.85 L441.35,701.84 L442.86,701.84 L444.37,701.83 L445.88,701.83 L447.39,701.82 L448.9,701.82 L450.41,701.81 L451.92,701.81 L453.43,701.81 L454.94,701.8 L456.45,701.8 L457.96,701.79 L459.47,701.78 L460.98,701.78 L462.49,701.77 L464,701.77 L465.5,701.76 L467.01,701.75 L468.52,701.74 L470.03,701.74 L471.54,701.73 L473.05,701.72 L474.56,701.71 L476.07,701.7 L477.58,701.69 L479.09,701.68 L480.6,701.67 L482.11,701.65 L483.62,701.64 L485.13,701.63 L486.64,701.61 L488.15,701.59 L489.66,701.58 L491.17,701.56 L492.68,701.54 L494.19,701.52 L495.7,701.5 L497.21,701.48 L498.73,701.46 L500.24,701.43 L501.75,701.41 L503.26,701.38 L504.77,701.36 L506.28,701.33 L507.79,701.3 L509.31,701.27 L510.82,701.24 L512.33,701.2 L513.84,701.17 L515.36,701.13 L516.87,701.1 L518.38,701.06 L519.9,701.02 L521.41,700.98 L522.92,700.93 L524.44,700.89 L525.95,700.84 L527.47,700.79 L528.98,700.73 L530.49,700.68 L532.01,700.62 L533.52,700.55 L535.03,700.49 L536.55,700.41 L538.06,700.34 L539.57,700.25 L541.08,700.17 L542.59,700.07 L544.1,699.98 L545.61,699.87 L547.11,699.76 L548.62,699.64 L550.12,699.52 L551.63,699.39 L553.13,699.25 L554.63,699.1 L556.13,698.95 L557.63,698.78 L559.13,698.61 L560.62,698.43 L562.12,698.24 L563.61,698.04 L565.1,697.83 L566.59,697.61 L568.07,697.38 L569.56,697.14 L571.04,696.89 L572.52,696.63 L574,696.35 L575.47,696.07 L576.95,695.77 L578.42,695.46 L579.89,695.14 L581.35,694.8 L582.82,694.45 L584.28,694.09 L585.73,693.72 L587.19,693.33 L588.64,692.92 L590.09,692.5 L591.54,692.07 L592.98,691.62 L594.42,691.16 L595.85,690.68 L597.28,690.18 L598.71,689.68 L600.13,689.15 L601.55,688.61 L602.96,688.06 L604.36,687.49 L605.76,686.9 L607.16,686.3 L608.54,685.68 L609.92,685.05 L611.3,684.4 L612.66,683.74 L614.02,683.06 L615.37,682.37 L616.71,681.65 L618.05,680.93 L619.37,680.18 L620.68,679.42 L621.98,678.64 L623.27,677.84 L624.55,677.03 L625.81,676.19 L627.05,675.33 L628.28,674.46 L629.49,673.56 L630.69,672.64 L631.86,671.71 L633.02,670.75 L634.17,669.77 L635.29,668.78 L636.4,667.77 L637.49,666.73 L638.56,665.68 L639.62,664.62 L640.66,663.53 L641.68,662.43 L642.68,661.32 L643.67,660.19 L644.64,659.04 L645.59,657.87 L646.53,656.7 L647.45,655.5 L648.35,654.3 L649.23,653.08 L650.1,651.85 L650.95,650.6 L651.78,649.34 L652.59,648.07 L653.39,646.79 L654.17,645.5 L654.93,644.19 L655.68,642.88 L656.41,641.55 L657.12,640.22 L657.81,638.87 L658.49,637.52 L659.15,636.16 L659.79,634.78 L660.41,633.41 L661.02,632.02 L661.61,630.63 L662.18,629.22 L662.74,627.82 L663.28,626.4 L663.8,624.98 L664.31,623.56 L664.8,622.13 L665.28,620.69 L665.74,619.25 L666.18,617.8 L666.62,616.35 L667.04,614.89 L667.44,613.43 L667.84,611.97 L668.22,610.5 L668.58,609.03 L668.94,607.56 L669.29,606.08 L669.62,604.6 L669.94,603.11 L670.26,601.63 L670.56,600.14 L670.85,598.65 L671.14,597.16 L671.41,595.67 L671.68,594.17 L671.94,592.68 L672.19,591.18 L672.43,589.69 L672.67,588.19 L672.9,586.69 L673.12,585.2 L673.34,583.7 L673.55,582.21 L673.76,580.71 L673.96,579.22 L674.16,577.73 L674.36,576.24 L674.55,574.75 L674.73,573.26 L674.92,571.78 L675.1,570.3" fill="none" stroke="#6414d2" stroke-width="2" stroke-linejoin="round" stroke-linecap="round"/>
<path d="M411.1,702 L412.61,701.96 L414.11,701.92 L415.62,701.88 L417.13,701.85 L418.64,701.82 L420.15,701.79 L421.65,701.76 L423.16,701.74 L424.67,701.72 L426.18,701.7 L427.69,701.69 L429.2,701.67 L430.71,701.66 L432.22,701.65 L433.74,701.64 L435.25,701.63 L436.76,701.63 L438.27,701.63 L439.78,701.62 L441.3,701.62 L442.81,701.62 L444.32,701.63 L445.84,701.63 L447.35,701.63 L448.86,701.64 L450.38,701.65 L451.89,701.65 L453.4,701.66 L454.92,701.67 L456.43,701.68 L457.95,701.69 L459.46,701.7 L460.98,701.71 L462.49,701.72 L464.01,701.73 L465.52,701.74 L467.04,701.75 L468.55,701.76 L470.07,701.77 L471.58,701.78 L473.1,701.79 L474.61,701.8 L476.13,701.81 L477.64,701.81 L479.16,701.82 L480.67,701.83 L482.19,701.83 L483.71,701.83 L485.22,701.84 L486.74,701.84 L488.25,701.84 L489.77,701.84 L491.28,701.84 L492.79,701.83 L494.31,701.83 L495.82,701.82 L497.34,701.81 L498.85,701.8 L500.37,701.79 L501.88,701.77 L503.39,701.76 L504.91,701.74 L506.42,701.71 L507.93,701.69 L509.45,701.66 L510.96,701.63 L512.47,701.6 L513.98,701.57 L515.5,701.53 L517.01,701.49 L518.52,701.45 L520.03,701.4 L521.54,701.35 L523.05,701.3 L524.56,701.24 L526.07,701.18 L527.58,701.12 L529.09,701.05 L530.6,700.98 L532.11,700.91 L533.61,700.83 L535.12,700.74 L536.63,700.66 L538.14,700.57 L539.64,700.47 L541.15,700.37 L542.65,700.27 L544.16,700.16 L545.66,700.05 L547.17,699.93 L548.67,699.81 L550.18,699.68 L551.68,699.55 L553.18,699.41 L554.68,699.27 L556.18,699.12 L557.68,698.97 L559.19,698.81 L560.68,698.65 L562.18,698.48 L563.68,698.3 L565.18,698.12 L566.68,697.94 L568.17,697.75 L569.67,697.55 L571.17,697.34 L572.66,697.13 L574.15,696.92 L575.65,696.69 L577.14,696.46 L578.63,696.23 L580.12,695.98 L581.61,695.72 L583.1,695.46 L584.58,695.18 L586.06,694.88 L587.54,694.58 L589.01,694.26 L590.48,693.92 L591.95,693.57 L593.41,693.19 L594.86,692.8 L596.31,692.39 L597.76,691.96 L599.2,691.51 L600.63,691.03 L602.05,690.53 L603.47,690 L604.88,689.45 L606.29,688.88 L607.69,688.28 L609.09,687.68 L610.48,687.05 L611.87,686.42 L613.25,685.78 L614.64,685.14 L616.03,684.49 L617.41,683.84 L618.79,683.18 L620.17,682.52 L621.54,681.86 L622.91,681.18 L624.27,680.49 L625.61,679.8 L626.95,679.08 L628.27,678.35 L629.58,677.61 L630.87,676.84 L632.15,676.06 L633.4,675.25 L634.64,674.42 L635.85,673.56 L637.04,672.67 L638.2,671.76 L639.34,670.81 L640.44,669.83 L641.52,668.82 L642.57,667.78 L643.6,666.71 L644.6,665.61 L645.57,664.48 L646.52,663.33 L647.45,662.15 L648.35,660.95 L649.23,659.72 L650.09,658.48 L650.93,657.21 L651.75,655.93 L652.56,654.63 L653.34,653.31 L654.11,651.98 L654.86,650.64 L655.59,649.28 L656.32,647.91 L657.02,646.54 L657.72,645.15 L658.4,643.76 L659.07,642.36 L659.73,640.96 L660.38,639.55 L661.02,638.14 L661.65,636.73 L662.28,635.32 L662.9,633.92 L663.51,632.51 L664.12,631.11 L664.72,629.72 L665.32,628.33 L665.92,626.95 L666.52,625.58 L667.11,624.22 L667.71,622.87 L668.31,621.53 L668.9,620.21 L669.5,618.9" fill="none" stroke="#0a820a" stroke-width="2" stroke-linejoin="round" stroke-linecap="round"/>
<path d="M411.1,702 L412.61,701.98 L414.12,701.95 L415.62,701.93 L417.13,701.91 L418.64,701.89 L420.15,701.88 L421.66,701.86 L423.16,701.85 L424.67,701.84 L426.18,701.82 L427.69,701.82 L429.2,701.81 L430.71,701.8 L432.22,701.79 L433.73,701.79 L435.24,701.79 L436.75,701.78 L438.26,701.78 L439.77,701.78 L441.28,701.78 L442.79,701.78 L444.3,701.78 L445.81,701.78 L447.32,701.79 L448.83,701.79 L450.34,701.79 L451.86,701.8 L453.37,701.8 L454.88,701.81 L456.39,701.81 L457.9,701.81 L459.41,701.82 L460.92,701.82 L462.43,701.83 L463.95,701.83 L465.46,701.84 L466.97,701.84 L468.48,701.85 L469.99,701.85 L471.5,701.85 L473.01,701.86 L474.53,701.86 L476.04,701.86 L477.55,701.86 L479.06,701.86 L480.57,701.86 L482.08,701.86 L483.59,701.86 L485.11,701.85 L486.62,701.85 L488.13,701.85 L489.64,701.84 L491.15,701.83 L492.66,701.82 L494.17,701.81 L495.68,701.8 L497.19,701.79 L498.7,701.77 L500.22,701.76 L501.73,701.74 L503.24,701.72 L504.75,701.7 L506.26,701.68 L507.77,701.66 L509.28,701.63 L510.79,701.6 L512.3,701.57 L513.81,701.54 L515.32,701.5 L516.83,701.47 L518.33,701.43 L519.84,701.39 L521.35,701.34 L522.86,701.3 L524.37,701.25 L525.88,701.2 L527.39,701.15 L528.89,701.09 L530.4,701.03 L531.91,700.97 L533.42,700.91 L534.92,700.84 L536.43,700.77 L537.94,700.69 L539.44,700.62 L540.95,700.54 L542.46,700.46 L543.96,700.37 L545.47,700.28 L546.97,700.19 L548.48,700.09 L549.98,699.99 L551.49,699.89 L552.99,699.78 L554.5,699.67 L556,699.56 L557.5,699.44 L559.01,699.32 L560.51,699.19 L562.01,699.06 L563.51,698.93 L565.02,698.79 L566.52,698.64 L568.02,698.49 L569.51,698.33 L571.01,698.16 L572.51,697.98 L574,697.79 L575.5,697.59 L576.99,697.39 L578.48,697.17 L579.97,696.94 L581.45,696.69 L582.94,696.43 L584.42,696.16 L585.9,695.87 L587.37,695.57 L588.84,695.25 L590.31,694.92 L591.78,694.56 L593.25,694.2 L594.71,693.81 L596.16,693.41 L597.62,692.99 L599.07,692.55 L600.51,692.1 L601.95,691.64 L603.39,691.16 L604.82,690.66 L606.25,690.15 L607.67,689.63 L609.09,689.09 L610.5,688.54 L611.91,687.98 L613.31,687.4 L614.71,686.81 L616.1,686.21 L617.49,685.6 L618.86,684.97 L620.23,684.33 L621.6,683.67 L622.95,683 L624.29,682.32 L625.63,681.61 L626.95,680.89 L628.26,680.16 L629.56,679.4 L630.84,678.63 L632.11,677.84 L633.36,677.02 L634.6,676.19 L635.83,675.33 L637.03,674.46 L638.22,673.56 L639.39,672.63 L640.54,671.69 L641.67,670.72 L642.78,669.73 L643.88,668.71 L644.95,667.68 L646.01,666.62 L647.05,665.54 L648.07,664.44 L649.08,663.32 L650.07,662.19 L651.05,661.03 L652,659.86 L652.95,658.67 L653.88,657.46 L654.79,656.24 L655.69,655 L656.57,653.75 L657.44,652.48 L658.3,651.2" fill="none" stroke="#000000" stroke-width="2" stroke-linejoin="round" stroke-linecap="round"/>
<path d="M411.1,701.9 L412.62,701.88 L414.13,701.87 L415.65,701.85 L417.16,701.84 L418.68,701.82 L420.19,701.81 L421.71,701.79 L423.22,701.78 L424.74,701.77 L426.25,701.76 L427.76,701.74 L429.27,701.73 L430.79,701.72 L432.3,701.71 L433.81,701.7 L435.32,701.69 L436.83,701.68 L438.34,701.67 L439.85,701.66 L441.36,701.65 L442.87,701.64 L444.38,701.64 L445.89,701.63 L447.4,701.62 L448.91,701.61 L450.42,701.6 L451.93,701.59 L453.44,701.58 L454.95,701.57 L456.45,701.56 L457.96,701.55 L459.47,701.54 L460.98,701.53 L462.49,701.52 L464,701.51 L465.5,701.5 L467.01,701.49 L468.52,701.48 L470.03,701.47 L471.54,701.46 L473.05,701.44 L474.55,701.43 L476.06,701.42 L477.57,701.4 L479.08,701.39 L480.59,701.37 L482.1,701.36 L483.61,701.34 L485.12,701.32 L486.62,701.3 L488.13,701.28 L489.64,701.26 L491.15,701.24 L492.66,701.22 L494.17,701.2 L495.68,701.18 L497.19,701.15 L498.71,701.13 L500.22,701.1 L501.73,701.08 L503.24,701.05 L504.75,701.02 L506.26,700.99 L507.78,700.96 L509.29,700.93 L510.8,700.89 L512.32,700.86 L513.83,700.82 L515.35,700.79 L516.86,700.75 L518.38,700.71 L519.89,700.67 L521.41,700.63 L522.93,700.58 L524.44,700.54 L525.96,700.49 L527.48,700.44 L528.99,700.38 L530.51,700.32 L532.03,700.26 L533.54,700.19 L535.06,700.12 L536.58,700.05 L538.09,699.97 L539.6,699.88 L541.12,699.78 L542.63,699.68 L544.14,699.58 L545.65,699.46 L547.16,699.34 L548.67,699.21 L550.17,699.07 L551.68,698.92 L553.18,698.77 L554.68,698.6 L556.18,698.42 L557.68,698.24 L559.17,698.04 L560.67,697.83 L562.16,697.61 L563.65,697.38 L565.13,697.14 L566.62,696.88 L568.1,696.61 L569.58,696.33 L571.05,696.03 L572.52,695.72 L573.99,695.4 L575.46,695.06 L576.92,694.71 L578.38,694.34 L579.84,693.95 L581.29,693.55 L582.74,693.14 L584.18,692.7 L585.62,692.26 L587.05,691.79 L588.48,691.31 L589.9,690.82 L591.32,690.3 L592.73,689.77 L594.14,689.23 L595.54,688.67 L596.93,688.09 L598.31,687.49 L599.69,686.88 L601.06,686.25 L602.42,685.6 L603.78,684.93 L605.12,684.25 L606.46,683.55 L607.79,682.83 L609.11,682.1 L610.41,681.35 L611.72,680.57 L613.01,679.78 L614.29,678.98 L615.56,678.15 L616.82,677.31 L618.06,676.44 L619.3,675.56 L620.53,674.67 L621.74,673.75 L622.95,672.82 L624.14,671.88 L625.32,670.91 L626.48,669.94 L627.64,668.95 L628.78,667.94 L629.91,666.92 L631.02,665.89 L632.12,664.84 L633.21,663.78 L634.29,662.71 L635.35,661.62 L636.4,660.53 L637.43,659.42 L638.44,658.3 L639.45,657.17 L640.43,656.03 L641.41,654.88 L642.36,653.73 L643.3,652.56 L644.22,651.38 L645.13,650.18 L646.01,648.98 L646.88,647.76 L647.72,646.53 L648.55,645.29 L649.35,644.03 L650.14,642.76 L650.9,641.48 L651.64,640.19 L652.37,638.88 L653.07,637.56 L653.76,636.23 L654.43,634.89 L655.08,633.54 L655.71,632.18 L656.33,630.81 L656.94,629.43 L657.53,628.05 L658.1,626.65 L658.66,625.25 L659.2,623.84 L659.74,622.42 L660.26,621 L660.76,619.57 L661.26,618.14 L661.74,616.7 L662.22,615.26 L662.68,613.81 L663.14,612.36 L663.58,610.9 L664.02,609.44 L664.44,607.98 L664.86,606.52 L665.28,605.06 L665.68,603.6 L666.08,602.13 L666.48,600.66 L666.86,599.2 L667.24,597.73 L667.62,596.26 L667.98,594.79 L668.34,593.32 L668.7,591.85 L669.04,590.38 L669.38,588.91 L669.71,587.44 L670.04,585.96 L670.36,584.49 L670.67,583.01 L670.97,581.53 L671.26,580.05 L671.55,578.58 L671.83,577.09 L672.1,575.61 L672.36,574.13 L672.62,572.65 L672.86,571.16 L673.1,569.68 L673.33,568.19 L673.55,566.7 L673.76,565.21 L673.97,563.72 L674.16,562.23 L674.35,560.74 L674.53,559.24 L674.7,557.75 L674.86,556.25 L675.01,554.75 L675.15,553.25 L675.28,551.75 L675.4,550.25 L675.51,548.74 L675.62,547.24 L675.71,545.73 L675.79,544.22 L675.87,542.71 L675.93,541.2 L675.99,539.69 L676.03,538.17 L676.06,536.66 L676.08,535.14 L676.1,533.62 L676.1,532.1 L676.09,530.58 L676.07,529.05 L676.04,527.53 L676,526" fill="none" stroke="#f0640f" stroke-width="2" stroke-linejoin="round" stroke-linecap="round"/>
<clipPath id="bbf"><rect x="414" y="699" width="254.5" height="4"/></clipPath>
<path d="M411.1,702 L412.61,701.98 L414.12,701.95 L415.62,701.93 L417.13,701.91 L418.64,701.89 L420.15,701.88 L421.66,701.86 L423.16,701.85 L424.67,701.84 L426.18,701.82 L427.69,701.82 L429.2,701.81 L430.71,701.8 L432.22,701.79 L433.73,701.79 L435.24,701.79 L436.75,701.78 L438.26,701.78 L439.77,701.78 L441.28,701.78 L442.79,701.78 L444.3,701.78 L445.81,701.78 L447.32,701.79 L448.83,701.79 L450.34,701.79 L451.86,701.8 L453.37,701.8 L454.88,701.81 L456.39,701.81 L457.9,701.81 L459.41,701.82 L460.92,701.82 L462.43,701.83 L463.95,701.83 L465.46,701.84 L466.97,701.84 L468.48,701.85 L469.99,701.85 L471.5,701.85 L473.01,701.86 L474.53,701.86 L476.04,701.86 L477.55,701.86 L479.06,701.86 L480.57,701.86 L482.08,701.86 L483.59,701.86 L485.11,701.85 L486.62,701.85 L488.13,701.85 L489.64,701.84 L491.15,701.83 L492.66,701.82 L494.17,701.81 L495.68,701.8 L497.19,701.79 L498.7,701.77 L500.22,701.76 L501.73,701.74 L503.24,701.72 L504.75,701.7 L506.26,701.68 L507.77,701.66 L509.28,701.63 L510.79,701.6 L512.3,701.57 L513.81,701.54 L515.32,701.5 L516.83,701.47 L518.33,701.43 L519.84,701.39 L521.35,701.34 L522.86,701.3 L524.37,701.25 L525.88,701.2 L527.39,701.15 L528.89,701.09 L530.4,701.03 L531.91,700.97 L533.42,700.91 L534.92,700.84 L536.43,700.77 L537.94,700.69 L539.44,700.62 L540.95,700.54 L542.46,700.46 L543.96,700.37 L545.47,700.28 L546.97,700.19 L548.48,700.09 L549.98,699.99 L551.49,699.89 L552.99,699.78 L554.5,699.67 L556,699.56 L557.5,699.44 L559.01,699.32 L560.51,699.19 L562.01,699.06 L563.51,698.93 L565.02,698.79 L566.52,698.64 L568.02,698.49 L569.51,698.33 L571.01,698.16 L572.51,697.98 L574,697.79 L575.5,697.59 L576.99,697.39 L578.48,697.17 L579.97,696.94 L581.45,696.69 L582.94,696.43 L584.42,696.16 L585.9,695.87 L587.37,695.57 L588.84,695.25 L590.31,694.92 L591.78,694.56 L593.25,694.2 L594.71,693.81 L596.16,693.41 L597.62,692.99 L599.07,692.55 L600.51,692.1 L601.95,691.64 L603.39,691.16 L604.82,690.66 L606.25,690.15 L607.67,689.63 L609.09,689.09 L610.5,688.54 L611.91,687.98 L613.31,687.4 L614.71,686.81 L616.1,686.21 L617.49,685.6 L618.86,684.97 L620.23,684.33 L621.6,683.67 L622.95,683 L624.29,682.32 L625.63,681.61 L626.95,680.89 L628.26,680.16 L629.56,679.4 L630.84,678.63 L632.11,677.84 L633.36,677.02 L634.6,676.19 L635.83,675.33 L637.03,674.46 L638.22,673.56 L639.39,672.63 L640.54,671.69 L641.67,670.72 L642.78,669.73 L643.88,668.71 L644.95,667.68 L646.01,666.62 L647.05,665.54 L648.07,664.44 L649.08,663.32 L650.07,662.19 L651.05,661.03 L652,659.86 L652.95,658.67 L653.88,657.46 L654.79,656.24 L655.69,655 L656.57,653.75 L657.44,652.48 L658.3,651.2" fill="none" stroke="#000" stroke-width="2" stroke-opacity="0.45" clip-path="url(#bbf)"/>
<circle cx="635.1" cy="670.1" r="3.8" fill="#000"/>
<circle cx="480.5" cy="690.1" r="3.8" fill="#000"/>
<circle cx="455" cy="694.7" r="3.8" fill="#000"/>
<circle cx="443.8" cy="689.3" r="3.8" fill="#000"/>
<path d="M660.8,611.1l3.8,5.8h-7.6z" fill="#0a820a"/>
<path d="M570.3,694.9l3.8,5.8h-7.6z" fill="#0a820a"/>
<path d="M554.6,697.1l3.8,5.8h-7.6z" fill="#0a820a"/>
<path d="M527,697.9l3.8,5.8h-7.6z" fill="#0a820a"/>
<path d="M428.9,696.9l3.8,5.8h-7.6z" fill="#0a820a"/>
<path d="M422.8,694.5l3.8,5.8h-7.6z" fill="#0a820a"/>
<path d="M667.5,547.75l3.75,3.75l-3.75,3.75l-3.75,-3.75z" fill="#6414d2"/>
<path d="M661.4,573.65l3.75,3.75l-3.75,3.75l-3.75,-3.75z" fill="#6414d2"/>
<path d="M649.7,639.85l3.75,3.75l-3.75,3.75l-3.75,-3.75z" fill="#6414d2"/>
<path d="M640.7,654.15l3.75,3.75l-3.75,3.75l-3.75,-3.75z" fill="#6414d2"/>
<path d="M631,655.15l3.75,3.75l-3.75,3.75l-3.75,-3.75z" fill="#6414d2"/>
<path d="M614.9,678.85l3.75,3.75l-3.75,3.75l-3.75,-3.75z" fill="#6414d2"/>
<path d="M597.7,694.05l3.75,3.75l-3.75,3.75l-3.75,-3.75z" fill="#6414d2"/>
<path d="M551.7,687.35l3.75,3.75l-3.75,3.75l-3.75,-3.75z" fill="#6414d2"/>
<path d="M468.3,695.05l3.75,3.75l-3.75,3.75l-3.75,-3.75z" fill="#6414d2"/>
<path d="M445.5,691.95l3.75,3.75l-3.75,3.75l-3.75,-3.75z" fill="#6414d2"/>
<path d="M423.6,695.45l3.75,3.75l-3.75,3.75l-3.75,-3.75z" fill="#6414d2"/>
<rect x="643.4" y="622.8" width="7.6" height="7.6" fill="#f0640f"/>
<rect x="628.2" y="649.1" width="7.6" height="7.6" fill="#f0640f"/>
<rect x="590.4" y="679.2" width="7.6" height="7.6" fill="#f0640f"/>
<rect x="565.5" y="690.5" width="7.6" height="7.6" fill="#f0640f"/>
<rect x="558.5" y="691.3" width="7.6" height="7.6" fill="#f0640f"/>
<rect x="527.8" y="686.5" width="7.6" height="7.6" fill="#f0640f"/>
<rect x="496.9" y="693.4" width="7.6" height="7.6" fill="#f0640f"/>
<path d="M411,512.5V702H675.5" fill="none" stroke="#5a5a5a" stroke-opacity="0.7" stroke-width="1"/>
<path d="M411.5,677.18h2.5" stroke="#5a5a5a" stroke-width="1"/>
<path d="M411.5,653.65h3.5" stroke="#5a5a5a" stroke-width="1"/>
<path d="M411.5,630.12h2.5" stroke="#5a5a5a" stroke-width="1"/>
<path d="M411.5,606.6h3.5" stroke="#5a5a5a" stroke-width="1"/>
<path d="M411.5,583.08h2.5" stroke="#5a5a5a" stroke-width="1"/>
<path d="M411.5,559.55h3.5" stroke="#5a5a5a" stroke-width="1"/>
<path d="M411.5,536.02h2.5" stroke="#5a5a5a" stroke-width="1"/>
<path d="M444.06,702v-2.5" stroke="#5a5a5a" stroke-width="1"/>
<path d="M477.12,702v-3.5" stroke="#5a5a5a" stroke-width="1"/>
<path d="M510.19,702v-2.5" stroke="#5a5a5a" stroke-width="1"/>
<path d="M543.25,702v-3.5" stroke="#5a5a5a" stroke-width="1"/>
<path d="M576.31,702v-2.5" stroke="#5a5a5a" stroke-width="1"/>
<path d="M609.38,702v-3.5" stroke="#5a5a5a" stroke-width="1"/>
<path d="M642.44,702v-2.5" stroke="#5a5a5a" stroke-width="1"/>
<g style="filter:grayscale(1)"><text x="54.5" y="198.9" font-size="12.4" letter-spacing="-0.35" text-anchor="end">0.00</text><text x="54.5" y="151.53" font-size="12.4" letter-spacing="-0.35" text-anchor="end">0.25</text><text x="54.5" y="104.15" font-size="12.4" letter-spacing="-0.35" text-anchor="end">0.50</text><text x="54.5" y="56.77" font-size="12.4" letter-spacing="-0.35" text-anchor="end">0.75</text><text x="54.5" y="9.4" font-size="12.4" letter-spacing="-0.35" text-anchor="end">1.00</text><text x="61.15" y="213.8" font-size="12.4" letter-spacing="-0.25" text-anchor="middle">0</text><text x="127.03" y="213.8" font-size="12.4" letter-spacing="-0.25" text-anchor="middle">500</text><text x="192.9" y="213.8" font-size="12.4" letter-spacing="-0.25" text-anchor="middle">1000</text><text x="258.77" y="213.8" font-size="12.4" letter-spacing="-0.25" text-anchor="middle">1500</text><text x="324.65" y="213.8" font-size="12.4" letter-spacing="-0.25" text-anchor="middle">2000</text><text x="188" y="229.7" font-size="13" font-weight="bold" class="b" text-anchor="middle">Time (min)</text><text transform="translate(9.6,149.5) rotate(-90)" font-size="13" font-weight="bold" class="b">C<tspan font-size="9.9" dy="7.3">&#8801;Si-O-Si&#8801;</tspan><tspan dy="-7.3">/C</tspan><tspan font-size="9.0" dy="7.3">TEOS,0</tspan></text><text x="296.5" y="169.5" font-size="13" font-weight="bold" class="b" text-anchor="middle">(a)</text><text x="296.5" y="185.5" font-size="13" font-weight="bold" class="b" text-anchor="middle">pH = 3.8</text><text x="410.5" y="198.9" font-size="12.4" letter-spacing="-0.35" text-anchor="end">0.00</text><text x="410.5" y="151.53" font-size="12.4" letter-spacing="-0.35" text-anchor="end">0.25</text><text x="410.5" y="104.15" font-size="12.4" letter-spacing="-0.35" text-anchor="end">0.50</text><text x="410.5" y="56.77" font-size="12.4" letter-spacing="-0.35" text-anchor="end">0.75</text><text x="410.5" y="9.4" font-size="12.4" letter-spacing="-0.35" text-anchor="end">1.00</text><text x="417.15" y="213.5" font-size="12.4" letter-spacing="-0.25" text-anchor="middle">0</text><text x="483.27" y="213.5" font-size="12.4" letter-spacing="-0.25" text-anchor="middle">0.25</text><text x="549.4" y="213.5" font-size="12.4" letter-spacing="-0.25" text-anchor="middle">0.5</text><text x="615.52" y="213.5" font-size="12.4" letter-spacing="-0.25" text-anchor="middle">0.75</text><text x="681.65" y="213.5" font-size="12.4" letter-spacing="-0.25" text-anchor="middle">1</text><text x="545.1" y="229.7" font-size="13" font-weight="bold" class="b" text-anchor="middle">TEOS conversion</text><text transform="translate(366.5,150.2) rotate(-90)" font-size="13" font-weight="bold" class="b">C<tspan font-size="9.9" dy="7.3">&#8801;Si-O-Si&#8801;</tspan><tspan dy="-7.3">/C</tspan><tspan font-size="9.0" dy="7.3">TEOS,0</tspan></text><text x="451.6" y="22.2" font-size="13" font-weight="bold" class="b" text-anchor="middle">(b)</text><text x="451.6" y="37.6" font-size="13" font-weight="bold" class="b" text-anchor="middle">pH = 3.8</text><text x="52.5" y="452.6" font-size="12.4" letter-spacing="-0.35" text-anchor="end">0.00</text><text x="52.5" y="405.05" font-size="12.4" letter-spacing="-0.35" text-anchor="end">0.25</text><text x="52.5" y="357.5" font-size="12.4" letter-spacing="-0.35" text-anchor="end">0.50</text><text x="52.5" y="309.95" font-size="12.4" letter-spacing="-0.35" text-anchor="end">0.75</text><text x="52.5" y="262.4" font-size="12.4" letter-spacing="-0.35" text-anchor="end">1.00</text><text x="59.15" y="466.8" font-size="12.4" letter-spacing="-0.25" text-anchor="middle">0</text><text x="125.03" y="466.8" font-size="12.4" letter-spacing="-0.25" text-anchor="middle">500</text><text x="190.9" y="466.8" font-size="12.4" letter-spacing="-0.25" text-anchor="middle">1000</text><text x="256.77" y="466.8" font-size="12.4" letter-spacing="-0.25" text-anchor="middle">1500</text><text x="322.65" y="466.8" font-size="12.4" letter-spacing="-0.25" text-anchor="middle">2000</text><text x="185.85" y="483.2" font-size="13" font-weight="bold" class="b" text-anchor="middle">Time (min)</text><text transform="translate(9.6,403) rotate(-90)" font-size="13" font-weight="bold" class="b">C<tspan font-size="9.9" dy="7.3">&#8801;Si-O-Si&#8801;</tspan><tspan dy="-7.3">/C</tspan><tspan font-size="9.0" dy="7.3">TEOS,0</tspan></text><text x="285.6" y="423.7" font-size="13" font-weight="bold" class="b" text-anchor="middle">(c)</text><text x="285.6" y="439.4" font-size="13" font-weight="bold" class="b" text-anchor="middle">pH = 4.1</text><text x="412.5" y="452.6" font-size="12.4" letter-spacing="-0.35" text-anchor="end">0.00</text><text x="412.5" y="405.05" font-size="12.4" letter-spacing="-0.35" text-anchor="end">0.25</text><text x="412.5" y="357.5" font-size="12.4" letter-spacing="-0.35" text-anchor="end">0.50</text><text x="412.5" y="309.95" font-size="12.4" letter-spacing="-0.35" text-anchor="end">0.75</text><text x="412.5" y="262.4" font-size="12.4" letter-spacing="-0.35" text-anchor="end">1.00</text><text x="419.15" y="467.5" font-size="12.4" letter-spacing="-0.25" text-anchor="middle">0.00</text><text x="484.52" y="467.5" font-size="12.4" letter-spacing="-0.25" text-anchor="middle">0.25</text><text x="549.9" y="467.5" font-size="12.4" letter-spacing="-0.25" text-anchor="middle">0.50</text><text x="615.27" y="467.5" font-size="12.4" letter-spacing="-0.25" text-anchor="middle">0.75</text><text x="680.65" y="467.5" font-size="12.4" letter-spacing="-0.25" text-anchor="middle">1.00</text><text x="544.15" y="483.4" font-size="13" font-weight="bold" class="b" text-anchor="middle">TEOS conversion</text><text transform="translate(366.7,403.9) rotate(-90)" font-size="13" font-weight="bold" class="b">C<tspan font-size="9.9" dy="7.3">&#8801;Si-O-Si&#8801;</tspan><tspan dy="-7.3">/C</tspan><tspan font-size="9.0" dy="7.3">TEOS,0</tspan></text><text x="451.9" y="274.9" font-size="13" font-weight="bold" class="b" text-anchor="middle">(d)</text><text x="451.9" y="290.2" font-size="13" font-weight="bold" class="b" text-anchor="middle">pH = 4.1</text><text x="47" y="706.6" font-size="12.4" letter-spacing="-0.35" text-anchor="end">0.00</text><text x="47" y="659.3" font-size="12.4" letter-spacing="-0.35" text-anchor="end">0.25</text><text x="47" y="612" font-size="12.4" letter-spacing="-0.35" text-anchor="end">0.50</text><text x="47" y="564.7" font-size="12.4" letter-spacing="-0.35" text-anchor="end">0.75</text><text x="47" y="517.4" font-size="12.4" letter-spacing="-0.35" text-anchor="end">1.00</text><text x="51.95" y="721.7" font-size="12.4" letter-spacing="-0.25" text-anchor="middle">0</text><text x="118.08" y="721.7" font-size="12.4" letter-spacing="-0.25" text-anchor="middle">500</text><text x="184.2" y="721.7" font-size="12.4" letter-spacing="-0.25" text-anchor="middle">1000</text><text x="250.33" y="721.7" font-size="12.4" letter-spacing="-0.25" text-anchor="middle">1500</text><text x="316.45" y="721.7" font-size="12.4" letter-spacing="-0.25" text-anchor="middle">2000</text><text x="181.05" y="737.6" font-size="13" font-weight="bold" class="b" text-anchor="middle">Time (min)</text><text transform="translate(9.4,654.8) rotate(-90)" font-size="13" font-weight="bold" class="b">C<tspan font-size="9.9" dy="7.3">&#8801;Si-O-Si&#8801;</tspan><tspan dy="-7.3">/C</tspan><tspan font-size="9.0" dy="7.3">TEOS,0</tspan></text><text x="83.85" y="529.2" font-size="13" font-weight="bold" class="b" text-anchor="middle">(e)</text><text x="83.85" y="545" font-size="13" font-weight="bold" class="b" text-anchor="middle">pH = 4.4</text><text x="404.5" y="705.6" font-size="12.4" letter-spacing="-0.35" text-anchor="end">0.00</text><text x="404.5" y="658.55" font-size="12.4" letter-spacing="-0.35" text-anchor="end">0.25</text><text x="404.5" y="611.5" font-size="12.4" letter-spacing="-0.35" text-anchor="end">0.50</text><text x="404.5" y="564.45" font-size="12.4" letter-spacing="-0.35" text-anchor="end">0.75</text><text x="404.5" y="517.4" font-size="12.4" letter-spacing="-0.35" text-anchor="end">1.00</text><text x="411.15" y="720.1" font-size="12.4" letter-spacing="-0.25" text-anchor="middle">0.00</text><text x="477.27" y="720.1" font-size="12.4" letter-spacing="-0.25" text-anchor="middle">0.25</text><text x="543.4" y="720.1" font-size="12.4" letter-spacing="-0.25" text-anchor="middle">0.50</text><text x="609.52" y="720.1" font-size="12.4" letter-spacing="-0.25" text-anchor="middle">0.75</text><text x="675.65" y="720.1" font-size="12.4" letter-spacing="-0.25" text-anchor="middle">1.00</text><text x="538.4" y="736.3" font-size="13" font-weight="bold" class="b" text-anchor="middle">TEOS conversion</text><text transform="translate(366.4,656.3) rotate(-90)" font-size="13" font-weight="bold" class="b">C<tspan font-size="9.9" dy="7.3">&#8801;Si-O-Si&#8801;</tspan><tspan dy="-7.3">/C</tspan><tspan font-size="9.0" dy="7.3">TEOS,0</tspan></text><text x="441.7" y="529.9" font-size="13" font-weight="bold" class="b" text-anchor="middle">(f)</text><text x="441.7" y="545.5" font-size="13" font-weight="bold" class="b" text-anchor="middle">pH = 4.4</text></g>
</svg></body></html>
